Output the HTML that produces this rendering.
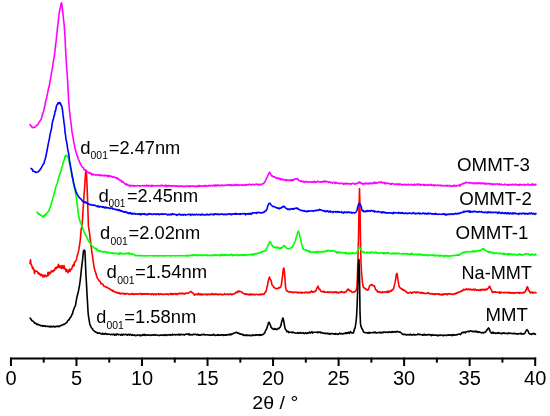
<!DOCTYPE html>
<html><head><meta charset="utf-8"><style>
html,body{margin:0;padding:0;background:#fff;}
body{width:550px;height:416px;overflow:hidden;}
svg{display:block;}
text{font-family:"Liberation Sans",Arial,sans-serif;fill:#000;}
</style></head><body>
<svg width="550" height="416" viewBox="0 0 550 416">
<rect width="550" height="416" fill="#fff"/>
<g fill="none" stroke-width="1.6" stroke-linejoin="round" stroke-linecap="round">
<path d="M30.0,263.4 30.5,259.9 31.0,264.3 31.5,264.7 32.0,266.6 32.5,268.4 33.0,267.4 33.5,269.6 34.0,269.3 34.5,273.5 35.0,271.0 35.5,270.8 36.0,271.2 36.5,271.2 37.0,271.2 37.5,272.1 38.0,273.1 38.5,272.8 39.0,274.1 39.5,273.4 40.0,274.0 40.5,275.6 41.0,275.1 41.5,274.4 42.0,274.9 42.5,275.7 43.0,277.1 43.5,275.4 44.0,275.5 44.5,276.6 45.0,275.1 45.5,275.7 46.0,276.6 46.5,276.2 47.0,275.5 47.5,275.7 48.0,272.4 48.5,275.4 49.0,273.3 49.5,272.3 50.0,273.5 50.5,273.4 51.0,271.9 51.5,270.8 52.0,271.3 52.5,270.8 53.0,271.8 53.5,270.8 54.0,269.9 54.5,270.4 55.0,268.7 55.5,267.6 56.0,268.7 56.5,268.4 57.0,267.3 57.5,266.4 58.0,267.1 58.5,264.3 59.0,267.4 59.5,267.4 60.0,265.7 60.5,267.6 61.0,266.8 61.5,268.4 62.0,265.5 62.5,266.4 63.0,267.9 63.5,268.4 64.0,265.6 64.5,267.8 65.0,269.1 65.5,268.9 66.0,271.6 66.5,269.5 67.0,271.3 67.5,270.3 68.0,272.8 68.5,271.6 69.0,271.0 69.5,269.0 70.0,271.4 70.5,269.9 71.0,269.4 71.5,269.3 72.0,267.9 72.5,266.2 73.0,265.3 73.5,264.5 74.0,266.0 74.5,262.1 75.0,262.1 75.5,261.3 76.0,260.6 76.5,259.2 77.0,256.7 77.5,254.5 78.0,253.2 78.5,251.4 79.0,248.7 79.5,245.6 80.0,241.9 80.5,237.6 81.0,230.3 81.5,228.3 82.0,225.4 82.5,219.8 83.0,210.2 83.5,203.1 84.0,195.5 84.5,189.5 85.0,181.4 85.5,173.7 86.0,170.0 86.5,174.1 87.0,184.9 87.5,197.9 88.0,213.1 88.5,226.9 89.0,229.6 89.5,232.3 90.0,237.4 90.5,241.5 91.0,245.3 91.5,249.1 92.0,253.4 92.5,255.9 93.0,260.1 93.5,263.3 94.0,266.7 94.5,268.7 95.0,271.1 95.5,272.0 96.0,274.1 96.5,275.4 97.0,277.6 97.5,278.3 98.0,278.8 98.5,279.6 99.0,280.7 99.5,280.9 100.0,281.4 100.5,282.5 101.0,283.8 101.5,283.3 102.0,283.8 102.5,284.0 103.0,284.4 103.5,285.6 104.0,286.1 104.5,286.2 105.0,286.6 105.5,286.9 106.0,287.2 106.5,286.9 107.0,287.6 107.5,288.0 108.0,288.0 108.5,288.3 109.0,288.4 109.5,288.8 110.0,289.5 110.5,289.3 111.0,289.7 111.5,290.3 112.0,290.5 112.5,291.2 113.0,290.2 113.5,291.4 114.0,291.2 114.5,291.7 115.0,292.1 115.5,292.3 116.0,292.5 116.5,292.3 117.0,293.0 117.5,292.5 118.0,292.6 118.5,293.1 119.0,292.7 119.5,293.7 120.0,293.4 120.5,293.9 121.0,293.2 121.5,293.2 122.0,293.5 122.5,293.7 123.0,293.3 123.5,293.7 124.0,293.6 124.5,294.2 125.0,293.5 125.5,294.1 126.0,293.6 126.5,293.5 127.0,293.6 127.5,293.5 128.0,293.9 128.5,294.2 129.0,294.0 129.5,294.2 130.0,294.5 130.5,294.1 131.0,294.1 131.5,293.9 132.0,293.5 132.5,294.3 133.0,293.5 133.5,294.3 134.0,294.1 134.5,294.5 135.0,294.1 135.5,293.8 136.0,294.2 136.5,293.9 137.0,294.0 137.5,294.1 138.0,294.1 138.5,294.0 139.0,293.8 139.5,294.0 140.0,293.4 140.5,294.0 141.0,293.7 141.5,294.5 142.0,294.5 142.5,293.5 143.0,294.1 143.5,294.1 144.0,293.8 144.5,294.3 145.0,294.0 145.5,293.5 146.0,294.0 146.5,294.1 147.0,294.1 147.5,293.7 148.0,294.3 148.5,294.3 149.0,293.7 149.5,293.9 150.0,294.1 150.5,293.9 151.0,294.7 151.5,294.2 152.0,293.8 152.5,293.8 153.0,294.1 153.5,294.8 154.0,294.0 154.5,294.1 155.0,294.3 155.5,294.1 156.0,294.8 156.5,293.9 157.0,294.3 157.5,294.2 158.0,294.3 158.5,293.7 159.0,294.7 159.5,294.1 160.0,294.1 160.5,293.8 161.0,293.9 161.5,294.3 162.0,294.4 162.5,294.3 163.0,294.5 163.5,294.3 164.0,294.1 164.5,294.4 165.0,294.3 165.5,294.0 166.0,294.3 166.5,294.5 167.0,294.1 167.5,293.9 168.0,294.3 168.5,294.7 169.0,294.0 169.5,294.0 170.0,294.0 170.5,294.4 171.0,293.4 171.5,294.1 172.0,294.4 172.5,293.7 173.0,294.5 173.5,294.1 174.0,293.8 174.5,294.0 175.0,293.4 175.5,293.7 176.0,294.5 176.5,293.6 177.0,294.5 177.5,293.8 178.0,294.2 178.5,293.8 179.0,293.1 179.5,293.6 180.0,293.8 180.5,293.4 181.0,293.3 181.5,293.8 182.0,293.5 182.5,293.1 183.0,293.4 183.5,293.9 184.0,293.4 184.5,293.9 185.0,294.0 185.5,293.5 186.0,293.1 186.5,293.0 187.0,293.3 187.5,293.5 188.0,293.2 188.5,293.1 189.0,292.5 189.5,292.4 190.0,291.8 190.5,291.7 191.0,291.5 191.5,291.7 192.0,292.6 192.5,292.7 193.0,293.1 193.5,293.9 194.0,294.0 194.5,295.2 195.0,294.6 195.5,294.1 196.0,294.5 196.5,294.4 197.0,294.1 197.5,294.7 198.0,294.1 198.5,293.3 199.0,294.6 199.5,294.1 200.0,294.8 200.5,294.1 201.0,293.9 201.5,294.8 202.0,294.0 202.5,294.4 203.0,294.8 203.5,294.3 204.0,294.3 204.5,294.3 205.0,294.6 205.5,294.0 206.0,294.5 206.5,294.5 207.0,295.0 207.5,294.2 208.0,294.0 208.5,294.5 209.0,294.2 209.5,294.4 210.0,294.3 210.5,294.7 211.0,294.1 211.5,294.3 212.0,293.5 212.5,294.0 213.0,294.8 213.5,294.1 214.0,294.1 214.5,293.9 215.0,294.5 215.5,294.4 216.0,293.9 216.5,294.5 217.0,294.4 217.5,294.5 218.0,294.1 218.5,294.9 219.0,294.4 219.5,294.3 220.0,294.1 220.5,294.2 221.0,294.6 221.5,294.2 222.0,294.6 222.5,294.5 223.0,294.7 223.5,294.6 224.0,294.3 224.5,293.7 225.0,294.4 225.5,294.6 226.0,294.4 226.5,294.5 227.0,294.1 227.5,294.2 228.0,294.0 228.5,294.7 229.0,294.4 229.5,294.1 230.0,293.9 230.5,294.2 231.0,294.7 231.5,294.3 232.0,293.9 232.5,294.4 233.0,294.3 233.5,294.1 234.0,293.9 234.5,293.8 235.0,293.3 235.5,293.0 236.0,292.2 236.5,292.6 237.0,292.0 237.5,292.4 238.0,290.9 238.5,291.6 239.0,291.6 239.5,291.1 240.0,291.4 240.5,291.6 241.0,291.8 241.5,291.8 242.0,292.2 242.5,292.9 243.0,293.3 243.5,293.3 244.0,293.6 244.5,294.0 245.0,294.5 245.5,293.9 246.0,293.9 246.5,294.4 247.0,294.1 247.5,294.3 248.0,294.6 248.5,294.7 249.0,294.2 249.5,294.9 250.0,294.0 250.5,294.8 251.0,294.1 251.5,294.2 252.0,294.8 252.5,294.4 253.0,294.3 253.5,294.4 254.0,294.7 254.5,294.5 255.0,294.5 255.5,294.8 256.0,294.2 256.5,294.3 257.0,294.3 257.5,294.8 258.0,294.8 258.5,294.8 259.0,294.4 259.5,294.4 260.0,294.7 260.5,294.2 261.0,294.6 261.5,294.6 262.0,294.1 262.5,294.2 263.0,294.1 263.5,294.5 264.0,294.5 264.5,293.3 265.0,292.9 265.5,291.6 266.0,291.6 266.5,289.7 267.0,287.1 267.5,285.6 268.0,282.3 268.5,280.2 269.0,278.3 269.5,277.1 270.0,278.6 270.5,279.7 271.0,280.3 271.5,282.3 272.0,284.9 272.5,285.6 273.0,285.8 273.5,286.7 274.0,287.2 274.5,287.6 275.0,288.2 275.5,288.3 276.0,288.8 276.5,288.7 277.0,288.4 277.5,288.5 278.0,288.5 278.5,288.2 279.0,287.4 279.5,287.9 280.0,287.4 280.5,287.5 281.0,286.3 281.5,284.1 282.0,279.8 282.5,276.5 283.0,271.7 283.5,268.2 284.0,268.3 284.5,272.7 285.0,279.0 285.5,286.7 286.0,289.5 286.5,290.8 287.0,290.6 287.5,291.2 288.0,291.4 288.5,292.0 289.0,291.5 289.5,291.8 290.0,292.0 290.5,292.3 291.0,292.1 291.5,292.0 292.0,291.9 292.5,292.4 293.0,292.7 293.5,292.4 294.0,292.4 294.5,292.5 295.0,292.1 295.5,292.3 296.0,292.3 296.5,292.5 297.0,292.4 297.5,292.0 298.0,292.8 298.5,293.0 299.0,292.4 299.5,292.6 300.0,292.6 300.5,292.8 301.0,292.1 301.5,293.1 302.0,292.4 302.5,293.0 303.0,292.6 303.5,292.5 304.0,292.5 304.5,292.9 305.0,292.3 305.5,292.5 306.0,292.4 306.5,292.0 307.0,292.9 307.5,292.6 308.0,292.4 308.5,292.7 309.0,292.0 309.5,292.2 310.0,292.7 310.5,292.4 311.0,291.3 311.5,290.9 312.0,291.6 312.5,292.2 313.0,291.7 313.5,291.7 314.0,291.9 314.5,291.3 315.0,291.6 315.5,291.3 316.0,290.4 316.5,289.4 317.0,287.9 317.5,287.1 318.0,286.1 318.5,287.4 319.0,289.1 319.5,289.0 320.0,289.4 320.5,290.8 321.0,291.4 321.5,291.7 322.0,291.8 322.5,291.3 323.0,291.4 323.5,292.1 324.0,291.4 324.5,292.2 325.0,291.8 325.5,292.2 326.0,292.2 326.5,292.3 327.0,292.3 327.5,291.8 328.0,292.2 328.5,292.1 329.0,292.3 329.5,292.6 330.0,292.1 330.5,292.0 331.0,292.0 331.5,292.2 332.0,292.5 332.5,292.0 333.0,292.7 333.5,292.4 334.0,292.2 334.5,291.9 335.0,292.4 335.5,292.5 336.0,291.7 336.5,292.7 337.0,292.8 337.5,292.4 338.0,292.5 338.5,293.1 339.0,292.7 339.5,292.0 340.0,292.3 340.5,292.2 341.0,292.3 341.5,291.5 342.0,292.5 342.5,292.1 343.0,292.4 343.5,292.3 344.0,292.6 344.5,292.2 345.0,292.0 345.5,292.2 346.0,292.0 346.5,290.7 347.0,290.5 347.5,289.6 348.0,289.1 348.5,290.0 349.0,289.6 349.5,290.7 350.0,290.6 350.5,291.3 351.0,291.1 351.5,291.5 352.0,292.4 352.5,292.3 353.0,292.3 353.5,292.1 354.0,292.3 354.5,291.6 355.0,291.4 355.5,291.4 356.0,290.4 356.5,289.1 357.0,286.3 357.5,273.4 358.0,256.9 358.5,238.4 359.0,208.1 359.5,188.5 360.0,207.1 360.5,240.7 361.0,262.1 361.5,271.9 362.0,277.5 362.5,283.0 363.0,285.8 363.5,287.4 364.0,287.9 364.5,287.8 365.0,288.6 365.5,288.6 366.0,289.5 366.5,289.3 367.0,289.6 367.5,290.1 368.0,289.5 368.5,289.6 369.0,287.6 369.5,286.2 370.0,285.6 370.5,285.4 371.0,284.7 371.5,285.0 372.0,284.6 372.5,285.2 373.0,285.7 373.5,285.5 374.0,285.6 374.5,286.0 375.0,287.9 375.5,289.2 376.0,289.9 376.5,290.4 377.0,290.4 377.5,291.9 378.0,291.6 378.5,291.8 379.0,292.3 379.5,291.5 380.0,292.3 380.5,292.3 381.0,292.4 381.5,292.7 382.0,292.5 382.5,291.7 383.0,292.2 383.5,292.4 384.0,292.3 384.5,291.9 385.0,291.7 385.5,292.4 386.0,292.3 386.5,292.1 387.0,291.5 387.5,292.5 388.0,290.9 388.5,291.6 389.0,292.3 389.5,291.4 390.0,291.3 390.5,290.6 391.0,291.3 391.5,290.1 392.0,290.4 392.5,290.0 393.0,289.1 393.5,289.0 394.0,286.6 394.5,284.8 395.0,282.7 395.5,280.1 396.0,277.0 396.5,274.2 397.0,273.4 397.5,276.5 398.0,280.1 398.5,283.2 399.0,286.2 399.5,286.9 400.0,287.8 400.5,288.1 401.0,288.2 401.5,289.1 402.0,288.8 402.5,289.4 403.0,290.2 403.5,289.7 404.0,290.4 404.5,290.3 405.0,291.0 405.5,291.0 406.0,291.7 406.5,291.9 407.0,292.4 407.5,293.1 408.0,292.8 408.5,293.0 409.0,292.8 409.5,292.7 410.0,292.5 410.5,292.1 411.0,292.7 411.5,293.1 412.0,292.7 412.5,292.3 413.0,293.0 413.5,292.2 414.0,292.1 414.5,291.9 415.0,292.0 415.5,292.2 416.0,293.0 416.5,292.3 417.0,292.0 417.5,292.2 418.0,292.4 418.5,292.0 419.0,292.6 419.5,292.9 420.0,292.8 420.5,293.0 421.0,292.4 421.5,292.4 422.0,293.4 422.5,293.4 423.0,292.6 423.5,293.2 424.0,293.2 424.5,293.4 425.0,293.4 425.5,293.2 426.0,293.4 426.5,293.5 427.0,293.4 427.5,292.9 428.0,292.5 428.5,293.3 429.0,293.1 429.5,293.7 430.0,293.9 430.5,293.8 431.0,293.6 431.5,293.8 432.0,294.2 432.5,293.6 433.0,294.1 433.5,294.1 434.0,294.0 434.5,294.4 435.0,293.7 435.5,294.3 436.0,293.7 436.5,293.8 437.0,293.7 437.5,294.2 438.0,293.8 438.5,294.2 439.0,293.8 439.5,294.5 440.0,294.8 440.5,294.3 441.0,294.8 441.5,294.4 442.0,295.0 442.5,294.3 443.0,293.8 443.5,294.8 444.0,294.3 444.5,294.0 445.0,294.1 445.5,293.8 446.0,294.2 446.5,293.9 447.0,294.8 447.5,294.5 448.0,293.7 448.5,293.8 449.0,294.0 449.5,293.6 450.0,294.1 450.5,294.1 451.0,293.9 451.5,293.9 452.0,294.2 452.5,294.5 453.0,294.5 453.5,294.0 454.0,294.2 454.5,293.6 455.0,293.9 455.5,293.3 456.0,293.7 456.5,292.9 457.0,292.8 457.5,292.9 458.0,292.9 458.5,292.0 459.0,292.1 459.5,292.1 460.0,291.9 460.5,291.2 461.0,291.3 461.5,290.9 462.0,291.3 462.5,290.8 463.0,289.9 463.5,289.3 464.0,289.9 464.5,290.0 465.0,289.5 465.5,289.7 466.0,289.1 466.5,288.8 467.0,289.6 467.5,289.4 468.0,289.6 468.5,288.9 469.0,289.5 469.5,289.2 470.0,289.8 470.5,289.3 471.0,289.4 471.5,289.4 472.0,290.1 472.5,289.7 473.0,289.4 473.5,289.4 474.0,289.4 474.5,290.3 475.0,289.1 475.5,289.5 476.0,290.0 476.5,290.2 477.0,289.8 477.5,290.1 478.0,290.1 478.5,290.2 479.0,289.9 479.5,290.5 480.0,290.0 480.5,290.4 481.0,289.5 481.5,290.2 482.0,289.4 482.5,289.3 483.0,290.0 483.5,289.5 484.0,289.9 484.5,289.3 485.0,290.2 485.5,289.6 486.0,289.1 486.5,289.5 487.0,289.6 487.5,288.7 488.0,288.4 488.5,288.1 489.0,287.0 489.5,286.3 490.0,286.6 490.5,288.5 491.0,289.3 491.5,290.1 492.0,291.7 492.5,291.6 493.0,292.6 493.5,292.1 494.0,291.8 494.5,291.8 495.0,292.3 495.5,291.9 496.0,292.0 496.5,292.2 497.0,292.3 497.5,292.3 498.0,292.3 498.5,292.7 499.0,292.8 499.5,291.8 500.0,293.2 500.5,292.4 501.0,292.8 501.5,292.2 502.0,292.5 502.5,292.5 503.0,292.5 503.5,292.8 504.0,292.7 504.5,292.2 505.0,292.5 505.5,292.8 506.0,292.8 506.5,292.5 507.0,292.6 507.5,292.6 508.0,292.3 508.5,292.3 509.0,293.2 509.5,292.6 510.0,292.8 510.5,292.5 511.0,293.1 511.5,293.3 512.0,292.7 512.5,292.9 513.0,292.5 513.5,293.3 514.0,293.0 514.5,292.5 515.0,293.1 515.5,292.8 516.0,292.9 516.5,292.8 517.0,292.5 517.5,292.6 518.0,292.9 518.5,292.7 519.0,292.4 519.5,293.4 520.0,292.7 520.5,292.5 521.0,292.5 521.5,292.9 522.0,293.0 522.5,292.8 523.0,293.0 523.5,292.2 524.0,292.6 524.5,292.4 525.0,291.9 525.5,291.3 526.0,289.6 526.5,290.0 527.0,287.0 527.5,286.9 528.0,288.1 528.5,289.8 529.0,290.9 529.5,291.1 530.0,292.4 530.5,293.0 531.0,292.4 531.5,292.4 532.0,292.0 532.5,293.1 533.0,292.9 533.5,292.4 534.0,292.7 534.5,292.7 535.0,292.4 535.5,292.6 536.0,292.8" stroke="#FF0000"/>
<path d="M37.0,212.1 37.5,212.7 38.0,213.8 38.5,213.9 39.0,213.6 39.5,214.5 40.0,214.6 40.5,215.2 41.0,215.0 41.5,215.9 42.0,216.1 42.5,216.7 43.0,216.4 43.5,216.4 44.0,215.5 44.5,216.3 45.0,214.6 45.5,215.1 46.0,214.2 46.5,213.5 47.0,213.1 47.5,212.4 48.0,212.1 48.5,211.1 49.0,210.8 49.5,208.6 50.0,207.9 50.5,206.0 51.0,205.0 51.5,202.2 52.0,201.2 52.5,199.7 53.0,197.2 53.5,196.3 54.0,194.0 54.5,192.5 55.0,190.7 55.5,188.1 56.0,186.5 56.5,185.1 57.0,184.0 57.5,182.4 58.0,179.9 58.5,178.3 59.0,176.5 59.5,175.0 60.0,173.5 60.5,171.9 61.0,171.5 61.5,168.4 62.0,166.9 62.5,165.7 63.0,163.2 63.5,161.9 64.0,160.3 64.5,159.1 65.0,156.2 65.5,156.8 66.0,155.3 66.5,155.4 67.0,155.9 67.5,156.1 68.0,157.0 68.5,158.5 69.0,160.7 69.5,163.5 70.0,165.2 70.5,169.0 71.0,170.3 71.5,172.6 72.0,177.1 72.5,178.2 73.0,179.9 73.5,183.7 74.0,184.7 74.5,187.9 75.0,189.7 75.5,193.1 76.0,195.7 76.5,199.0 77.0,202.9 77.5,206.7 78.0,210.8 78.5,215.2 79.0,216.8 79.5,220.1 80.0,221.0 80.5,222.7 81.0,223.4 81.5,224.6 82.0,226.3 82.5,227.4 83.0,229.1 83.5,230.0 84.0,231.9 84.5,232.5 85.0,233.6 85.5,235.0 86.0,235.8 86.5,236.7 87.0,237.7 87.5,238.7 88.0,240.2 88.5,241.0 89.0,241.7 89.5,242.6 90.0,242.9 90.5,244.0 91.0,244.0 91.5,245.6 92.0,245.7 92.5,246.3 93.0,246.9 93.5,247.1 94.0,247.5 94.5,248.4 95.0,248.3 95.5,248.3 96.0,249.0 96.5,248.6 97.0,249.9 97.5,249.6 98.0,250.0 98.5,250.9 99.0,251.1 99.5,250.7 100.0,251.0 100.5,251.3 101.0,251.7 101.5,251.2 102.0,251.5 102.5,251.9 103.0,251.8 103.5,252.0 104.0,252.1 104.5,251.7 105.0,251.8 105.5,251.4 106.0,252.2 106.5,252.7 107.0,252.0 107.5,252.8 108.0,252.8 108.5,252.6 109.0,252.6 109.5,252.7 110.0,252.5 110.5,252.8 111.0,252.9 111.5,253.2 112.0,253.3 112.5,252.9 113.0,253.5 113.5,253.0 114.0,253.2 114.5,253.5 115.0,253.4 115.5,253.4 116.0,253.5 116.5,253.3 117.0,253.3 117.5,253.5 118.0,253.9 118.5,253.5 119.0,254.2 119.5,253.7 120.0,252.7 120.5,253.5 121.0,254.1 121.5,253.6 122.0,253.4 122.5,253.3 123.0,253.9 123.5,253.8 124.0,253.7 124.5,253.6 125.0,253.9 125.5,253.7 126.0,253.0 126.5,253.6 127.0,253.5 127.5,253.4 128.0,253.7 128.5,253.5 129.0,252.7 129.5,254.1 130.0,254.0 130.5,253.7 131.0,253.8 131.5,254.1 132.0,253.8 132.5,254.4 133.0,254.4 133.5,254.5 134.0,254.5 134.5,254.7 135.0,255.5 135.5,255.7 136.0,255.6 136.5,255.5 137.0,255.5 137.5,255.7 138.0,255.8 138.5,255.5 139.0,255.8 139.5,255.5 140.0,255.7 140.5,255.7 141.0,255.6 141.5,255.6 142.0,255.8 142.5,255.8 143.0,255.7 143.5,255.9 144.0,255.7 144.5,255.9 145.0,255.8 145.5,255.8 146.0,255.8 146.5,255.8 147.0,256.0 147.5,256.0 148.0,255.8 148.5,255.8 149.0,255.7 149.5,255.7 150.0,255.8 150.5,255.8 151.0,255.8 151.5,255.8 152.0,255.8 152.5,255.7 153.0,255.7 153.5,255.9 154.0,255.9 154.5,255.8 155.0,255.9 155.5,255.7 156.0,255.8 156.5,255.6 157.0,255.9 157.5,255.8 158.0,255.9 158.5,255.9 159.0,255.8 159.5,255.8 160.0,255.9 160.5,255.8 161.0,255.8 161.5,255.8 162.0,255.9 162.5,255.9 163.0,256.0 163.5,255.8 164.0,255.9 164.5,255.7 165.0,255.8 165.5,255.8 166.0,255.9 166.5,255.8 167.0,255.7 167.5,255.8 168.0,255.8 168.5,255.8 169.0,255.8 169.5,255.7 170.0,256.0 170.5,255.8 171.0,255.9 171.5,255.7 172.0,255.7 172.5,255.8 173.0,255.8 173.5,255.8 174.0,255.7 174.5,255.8 175.0,255.9 175.5,255.7 176.0,255.8 176.5,255.7 177.0,255.8 177.5,255.8 178.0,255.9 178.5,255.7 179.0,255.8 179.5,255.8 180.0,255.6 180.5,255.7 181.0,255.7 181.5,255.7 182.0,255.8 182.5,255.8 183.0,256.0 183.5,255.8 184.0,255.8 184.5,255.7 185.0,255.7 185.5,255.7 186.0,255.5 186.5,256.2 187.0,255.5 187.5,255.4 188.0,255.5 188.5,255.9 189.0,255.9 189.5,255.4 190.0,255.6 190.5,255.4 191.0,255.1 191.5,255.4 192.0,255.3 192.5,254.8 193.0,255.6 193.5,254.8 194.0,255.3 194.5,254.9 195.0,255.0 195.5,255.0 196.0,255.4 196.5,254.8 197.0,255.1 197.5,255.7 198.0,255.0 198.5,255.2 199.0,255.4 199.5,255.0 200.0,255.3 200.5,255.0 201.0,255.4 201.5,255.2 202.0,254.9 202.5,255.6 203.0,255.2 203.5,255.1 204.0,254.9 204.5,255.1 205.0,255.2 205.5,255.3 206.0,255.5 206.5,254.8 207.0,255.1 207.5,255.6 208.0,255.3 208.5,255.3 209.0,255.7 209.5,255.3 210.0,255.3 210.5,255.2 211.0,255.7 211.5,255.5 212.0,255.0 212.5,255.4 213.0,254.9 213.5,255.5 214.0,255.4 214.5,255.2 215.0,255.1 215.5,254.7 216.0,255.4 216.5,255.2 217.0,255.1 217.5,255.4 218.0,255.0 218.5,255.0 219.0,255.0 219.5,254.8 220.0,255.9 220.5,255.1 221.0,255.1 221.5,255.5 222.0,254.3 222.5,255.2 223.0,255.2 223.5,254.9 224.0,255.3 224.5,254.6 225.0,255.2 225.5,255.4 226.0,254.5 226.5,254.7 227.0,255.1 227.5,255.2 228.0,255.0 228.5,255.3 229.0,255.2 229.5,254.7 230.0,255.1 230.5,254.7 231.0,254.5 231.5,254.4 232.0,255.4 232.5,255.1 233.0,255.7 233.5,254.7 234.0,255.0 234.5,255.2 235.0,255.0 235.5,255.2 236.0,255.1 236.5,254.9 237.0,254.4 237.5,254.8 238.0,255.6 238.5,255.3 239.0,255.5 239.5,254.9 240.0,255.0 240.5,254.8 241.0,255.1 241.5,255.0 242.0,255.1 242.5,255.5 243.0,254.7 243.5,255.2 244.0,254.6 244.5,255.3 245.0,254.8 245.5,254.9 246.0,255.0 246.5,255.4 247.0,254.9 247.5,254.7 248.0,254.5 248.5,254.9 249.0,254.5 249.5,254.6 250.0,254.7 250.5,254.8 251.0,254.3 251.5,254.7 252.0,255.0 252.5,253.9 253.0,254.7 253.5,254.9 254.0,254.0 254.5,254.3 255.0,253.6 255.5,254.1 256.0,253.8 256.5,253.9 257.0,253.4 257.5,253.3 258.0,253.3 258.5,253.1 259.0,253.0 259.5,252.9 260.0,252.5 260.5,252.7 261.0,252.7 261.5,251.6 262.0,252.2 262.5,251.7 263.0,251.4 263.5,251.1 264.0,251.1 264.5,250.9 265.0,251.0 265.5,250.2 266.0,250.5 266.5,248.8 267.0,248.0 267.5,247.0 268.0,245.1 268.5,244.8 269.0,243.9 269.5,241.8 270.0,241.8 270.5,242.1 271.0,243.4 271.5,244.3 272.0,245.2 272.5,246.2 273.0,246.6 273.5,246.6 274.0,247.3 274.5,247.4 275.0,247.4 275.5,247.1 276.0,248.1 276.5,248.0 277.0,246.9 277.5,247.3 278.0,247.6 278.5,248.2 279.0,248.4 279.5,247.9 280.0,248.1 280.5,248.3 281.0,247.7 281.5,248.2 282.0,247.6 282.5,247.3 283.0,246.7 283.5,245.8 284.0,245.6 284.5,246.0 285.0,246.3 285.5,246.7 286.0,247.8 286.5,248.0 287.0,248.2 287.5,248.8 288.0,248.8 288.5,248.7 289.0,248.9 289.5,248.5 290.0,248.4 290.5,248.1 291.0,247.6 291.5,247.8 292.0,247.0 292.5,246.7 293.0,245.5 293.5,244.9 294.0,243.7 294.5,242.6 295.0,241.5 295.5,240.2 296.0,238.1 296.5,236.2 297.0,235.0 297.5,233.1 298.0,231.4 298.5,231.2 299.0,232.6 299.5,234.7 300.0,237.3 300.5,238.5 301.0,240.6 301.5,243.4 302.0,245.1 302.5,247.0 303.0,248.4 303.5,249.3 304.0,249.6 304.5,249.8 305.0,249.8 305.5,249.8 306.0,250.6 306.5,250.1 307.0,250.7 307.5,250.5 308.0,251.0 308.5,251.3 309.0,251.9 309.5,250.9 310.0,252.3 310.5,251.8 311.0,252.2 311.5,252.4 312.0,252.0 312.5,252.2 313.0,252.3 313.5,252.1 314.0,252.0 314.5,252.2 315.0,252.2 315.5,251.7 316.0,252.5 316.5,252.1 317.0,251.3 317.5,251.7 318.0,252.5 318.5,252.4 319.0,252.0 319.5,251.4 320.0,251.8 320.5,252.1 321.0,251.9 321.5,251.6 322.0,251.4 322.5,251.9 323.0,251.5 323.5,251.6 324.0,251.6 324.5,251.9 325.0,251.4 325.5,251.3 326.0,250.6 326.5,251.4 327.0,251.3 327.5,250.9 328.0,250.1 328.5,250.5 329.0,250.7 329.5,251.3 330.0,250.8 330.5,250.9 331.0,250.9 331.5,251.2 332.0,250.5 332.5,250.7 333.0,250.7 333.5,251.1 334.0,251.2 334.5,251.5 335.0,251.3 335.5,251.8 336.0,251.6 336.5,252.6 337.0,251.9 337.5,253.0 338.0,252.8 338.5,252.0 339.0,252.7 339.5,252.6 340.0,252.1 340.5,252.8 341.0,252.6 341.5,252.8 342.0,252.5 342.5,252.9 343.0,253.1 343.5,252.9 344.0,252.9 344.5,253.0 345.0,252.8 345.5,253.3 346.0,252.4 346.5,253.7 347.0,253.3 347.5,253.4 348.0,253.6 348.5,252.9 349.0,254.0 349.5,253.0 350.0,253.4 350.5,253.4 351.0,253.7 351.5,253.3 352.0,252.9 352.5,253.4 353.0,252.6 353.5,253.2 354.0,253.2 354.5,253.8 355.0,253.2 355.5,253.2 356.0,253.1 356.5,253.0 357.0,252.2 357.5,251.5 358.0,249.7 358.5,248.7 359.0,247.2 359.5,247.3 360.0,248.0 360.5,248.5 361.0,249.6 361.5,250.6 362.0,251.6 362.5,252.3 363.0,252.3 363.5,252.0 364.0,251.9 364.5,252.6 365.0,252.9 365.5,252.6 366.0,253.0 366.5,252.4 367.0,252.4 367.5,253.0 368.0,252.2 368.5,252.7 369.0,252.7 369.5,252.6 370.0,253.1 370.5,252.3 371.0,252.5 371.5,252.0 372.0,252.3 372.5,252.5 373.0,252.5 373.5,252.6 374.0,252.8 374.5,252.5 375.0,252.1 375.5,252.8 376.0,252.9 376.5,252.4 377.0,252.5 377.5,253.3 378.0,253.1 378.5,253.2 379.0,253.1 379.5,252.9 380.0,252.7 380.5,253.1 381.0,252.9 381.5,252.8 382.0,253.0 382.5,253.0 383.0,253.3 383.5,252.7 384.0,253.8 384.5,252.8 385.0,253.0 385.5,253.4 386.0,252.9 386.5,253.0 387.0,253.2 387.5,252.3 388.0,253.1 388.5,252.9 389.0,253.2 389.5,253.4 390.0,253.5 390.5,253.8 391.0,253.8 391.5,253.7 392.0,253.4 392.5,253.7 393.0,253.1 393.5,253.4 394.0,253.9 394.5,253.7 395.0,253.1 395.5,253.3 396.0,253.8 396.5,253.7 397.0,253.9 397.5,253.0 398.0,253.2 398.5,253.6 399.0,253.4 399.5,253.7 400.0,253.7 400.5,253.8 401.0,253.7 401.5,253.9 402.0,254.0 402.5,253.8 403.0,253.4 403.5,254.2 404.0,253.9 404.5,254.0 405.0,254.0 405.5,253.4 406.0,254.1 406.5,253.8 407.0,253.6 407.5,254.4 408.0,253.9 408.5,254.2 409.0,254.4 409.5,254.6 410.0,253.6 410.5,253.9 411.0,254.4 411.5,254.0 412.0,253.2 412.5,254.3 413.0,254.4 413.5,254.6 414.0,254.4 414.5,254.2 415.0,254.5 415.5,254.4 416.0,254.3 416.5,254.5 417.0,254.6 417.5,254.2 418.0,254.9 418.5,254.8 419.0,254.8 419.5,253.8 420.0,254.7 420.5,254.6 421.0,254.4 421.5,254.9 422.0,254.3 422.5,255.2 423.0,254.9 423.5,254.7 424.0,255.3 424.5,255.0 425.0,255.0 425.5,254.5 426.0,255.1 426.5,255.4 427.0,255.4 427.5,254.6 428.0,255.5 428.5,255.6 429.0,255.4 429.5,255.0 430.0,254.7 430.5,255.0 431.0,255.1 431.5,255.4 432.0,255.5 432.5,255.1 433.0,254.9 433.5,255.3 434.0,255.1 434.5,255.9 435.0,255.1 435.5,255.7 436.0,255.8 436.5,255.3 437.0,255.9 437.5,255.6 438.0,255.4 438.5,255.4 439.0,255.8 439.5,256.1 440.0,255.2 440.5,256.0 441.0,255.8 441.5,255.6 442.0,255.8 442.5,255.9 443.0,255.8 443.5,256.1 444.0,255.6 444.5,256.5 445.0,256.2 445.5,255.7 446.0,255.3 446.5,255.9 447.0,255.7 447.5,256.1 448.0,256.1 448.5,256.4 449.0,255.8 449.5,256.0 450.0,255.7 450.5,255.7 451.0,256.2 451.5,255.7 452.0,255.7 452.5,255.6 453.0,255.8 453.5,255.8 454.0,255.6 454.5,255.2 455.0,255.6 455.5,255.2 456.0,255.3 456.5,255.3 457.0,255.3 457.5,254.4 458.0,255.5 458.5,255.1 459.0,255.3 459.5,255.3 460.0,254.0 460.5,253.9 461.0,253.8 461.5,253.7 462.0,253.0 462.5,252.7 463.0,252.9 463.5,252.1 464.0,252.4 464.5,252.6 465.0,252.1 465.5,252.3 466.0,252.0 466.5,251.5 467.0,251.8 467.5,251.8 468.0,251.8 468.5,251.8 469.0,251.9 469.5,251.9 470.0,251.8 470.5,251.6 471.0,251.6 471.5,251.5 472.0,251.4 472.5,252.0 473.0,250.9 473.5,251.6 474.0,250.9 474.5,251.2 475.0,251.6 475.5,251.2 476.0,251.7 476.5,250.9 477.0,251.0 477.5,250.8 478.0,250.9 478.5,250.7 479.0,250.5 479.5,250.5 480.0,250.7 480.5,250.2 481.0,250.1 481.5,249.7 482.0,249.3 482.5,248.8 483.0,248.9 483.5,249.3 484.0,248.9 484.5,250.0 485.0,250.0 485.5,250.2 486.0,250.5 486.5,251.1 487.0,251.2 487.5,251.4 488.0,252.1 488.5,252.4 489.0,251.5 489.5,252.3 490.0,251.9 490.5,251.9 491.0,252.3 491.5,252.9 492.0,252.6 492.5,252.6 493.0,253.3 493.5,253.0 494.0,252.9 494.5,253.6 495.0,253.2 495.5,252.9 496.0,252.8 496.5,253.1 497.0,253.3 497.5,253.6 498.0,253.6 498.5,253.4 499.0,253.1 499.5,253.7 500.0,253.5 500.5,253.2 501.0,253.2 501.5,253.7 502.0,253.8 502.5,254.0 503.0,253.4 503.5,254.4 504.0,253.3 504.5,253.9 505.0,254.4 505.5,254.3 506.0,253.7 506.5,254.3 507.0,254.5 507.5,254.4 508.0,253.9 508.5,254.7 509.0,253.7 509.5,254.3 510.0,254.0 510.5,254.2 511.0,254.2 511.5,254.5 512.0,254.0 512.5,254.5 513.0,254.8 513.5,254.5 514.0,254.6 514.5,254.6 515.0,254.3 515.5,254.4 516.0,254.5 516.5,254.7 517.0,255.2 517.5,255.1 518.0,254.4 518.5,254.5 519.0,254.3 519.5,253.9 520.0,255.0 520.5,254.8 521.0,254.1 521.5,254.7 522.0,255.4 522.5,254.8 523.0,254.8 523.5,254.7 524.0,254.4 524.5,254.2 525.0,254.1 525.5,254.1 526.0,253.7 526.5,253.7 527.0,253.8 527.5,253.7 528.0,254.3 528.5,254.2 529.0,253.9 529.5,255.1 530.0,254.7 530.5,254.9 531.0,254.4 531.5,254.0 532.0,255.0 532.5,254.0 533.0,254.6 533.5,254.5 534.0,254.7 534.5,254.9 535.0,254.9 535.5,254.0 536.0,255.0" stroke="#00FF00"/>
<path d="M31.0,168.4 31.5,168.8 32.0,169.4 32.5,169.3 33.0,171.2 33.5,171.3 34.0,171.2 34.5,171.8 35.0,171.9 35.5,171.8 36.0,172.4 36.5,172.2 37.0,172.2 37.5,172.0 38.0,172.0 38.5,171.5 39.0,171.1 39.5,170.2 40.0,169.8 40.5,168.8 41.0,168.5 41.5,167.3 42.0,166.4 42.5,165.6 43.0,164.2 43.5,164.0 44.0,163.5 44.5,161.0 45.0,159.7 45.5,157.8 46.0,156.1 46.5,153.0 47.0,150.8 47.5,148.1 48.0,145.4 48.5,142.9 49.0,140.2 49.5,138.2 50.0,134.7 50.5,132.6 51.0,130.4 51.5,128.8 52.0,124.7 52.5,122.0 53.0,120.0 53.5,118.8 54.0,116.0 54.5,115.1 55.0,111.1 55.5,111.0 56.0,108.8 56.5,105.3 57.0,104.9 57.5,104.6 58.0,102.9 58.5,102.9 59.0,103.6 59.5,102.5 60.0,102.8 60.5,103.3 61.0,105.2 61.5,105.6 62.0,107.0 62.5,110.1 63.0,114.7 63.5,118.1 64.0,122.4 64.5,126.0 65.0,132.0 65.5,134.9 66.0,139.1 66.5,141.4 67.0,144.1 67.5,147.8 68.0,150.5 68.5,152.8 69.0,156.1 69.5,160.6 70.0,163.0 70.5,166.1 71.0,168.8 71.5,171.5 72.0,175.0 72.5,177.2 73.0,179.5 73.5,182.5 74.0,184.5 74.5,186.8 75.0,188.8 75.5,189.5 76.0,191.9 76.5,192.5 77.0,194.0 77.5,194.6 78.0,195.7 78.5,196.6 79.0,197.1 79.5,197.7 80.0,198.3 80.5,198.7 81.0,198.9 81.5,199.8 82.0,200.4 82.5,201.0 83.0,201.2 83.5,202.1 84.0,201.7 84.5,201.7 85.0,202.7 85.5,202.0 86.0,202.9 86.5,202.6 87.0,203.3 87.5,202.8 88.0,204.0 88.5,203.8 89.0,203.8 89.5,204.8 90.0,204.7 90.5,204.6 91.0,204.5 91.5,204.8 92.0,204.9 92.5,205.3 93.0,205.5 93.5,205.1 94.0,205.3 94.5,205.4 95.0,205.2 95.5,205.6 96.0,205.9 96.5,206.2 97.0,206.5 97.5,205.9 98.0,206.5 98.5,206.2 99.0,207.2 99.5,206.6 100.0,206.8 100.5,206.4 101.0,206.6 101.5,207.0 102.0,206.9 102.5,207.2 103.0,206.6 103.5,207.5 104.0,207.0 104.5,207.9 105.0,207.4 105.5,207.9 106.0,207.1 106.5,207.8 107.0,207.5 107.5,207.7 108.0,207.9 108.5,207.9 109.0,208.1 109.5,208.4 110.0,208.4 110.5,208.3 111.0,207.9 111.5,208.2 112.0,208.5 112.5,208.0 113.0,209.1 113.5,208.9 114.0,209.0 114.5,209.5 115.0,209.5 115.5,209.5 116.0,209.2 116.5,209.8 117.0,209.9 117.5,209.6 118.0,210.4 118.5,210.4 119.0,209.7 119.5,210.5 120.0,210.2 120.5,211.1 121.0,211.1 121.5,210.7 122.0,210.9 122.5,211.4 123.0,211.4 123.5,212.1 124.0,212.0 124.5,211.8 125.0,212.2 125.5,211.5 126.0,212.4 126.5,212.7 127.0,212.5 127.5,212.4 128.0,212.9 128.5,213.5 129.0,213.1 129.5,212.8 130.0,213.7 130.5,212.7 131.0,213.6 131.5,213.3 132.0,213.9 132.5,213.4 133.0,214.1 133.5,213.9 134.0,213.3 134.5,213.3 135.0,213.8 135.5,214.3 136.0,214.0 136.5,214.0 137.0,213.9 137.5,214.2 138.0,214.1 138.5,214.1 139.0,213.7 139.5,214.4 140.0,214.4 140.5,213.7 141.0,214.8 141.5,214.3 142.0,213.9 142.5,213.5 143.0,214.3 143.5,214.3 144.0,213.9 144.5,213.6 145.0,214.5 145.5,214.0 146.0,214.0 146.5,215.0 147.0,214.8 147.5,214.4 148.0,214.0 148.5,214.4 149.0,213.5 149.5,214.2 150.0,214.0 150.5,213.8 151.0,213.7 151.5,214.4 152.0,214.2 152.5,214.3 153.0,214.5 153.5,214.0 154.0,213.9 154.5,213.7 155.0,214.1 155.5,214.5 156.0,214.2 156.5,214.4 157.0,213.9 157.5,214.1 158.0,214.0 158.5,213.9 159.0,214.8 159.5,214.6 160.0,214.1 160.5,214.1 161.0,214.3 161.5,213.9 162.0,214.5 162.5,213.9 163.0,214.2 163.5,214.0 164.0,214.2 164.5,214.0 165.0,213.9 165.5,214.1 166.0,214.2 166.5,214.3 167.0,214.4 167.5,214.9 168.0,214.7 168.5,214.4 169.0,214.7 169.5,214.3 170.0,214.9 170.5,214.6 171.0,214.1 171.5,214.7 172.0,214.7 172.5,213.7 173.0,214.3 173.5,214.4 174.0,214.0 174.5,214.2 175.0,214.3 175.5,214.7 176.0,214.7 176.5,215.4 177.0,214.5 177.5,214.9 178.0,214.6 178.5,214.7 179.0,214.3 179.5,214.0 180.0,214.4 180.5,214.9 181.0,215.1 181.5,214.8 182.0,214.8 182.5,214.4 183.0,215.1 183.5,215.1 184.0,214.5 184.5,214.7 185.0,214.4 185.5,215.1 186.0,214.8 186.5,214.7 187.0,214.8 187.5,214.8 188.0,214.6 188.5,214.3 189.0,214.3 189.5,214.2 190.0,214.8 190.5,215.4 191.0,214.2 191.5,214.7 192.0,214.8 192.5,214.4 193.0,214.8 193.5,214.4 194.0,215.0 194.5,214.5 195.0,214.7 195.5,214.9 196.0,214.5 196.5,214.1 197.0,214.5 197.5,214.9 198.0,214.6 198.5,214.7 199.0,214.3 199.5,214.7 200.0,214.8 200.5,214.6 201.0,215.2 201.5,214.5 202.0,214.3 202.5,214.1 203.0,214.9 203.5,214.6 204.0,214.9 204.5,214.7 205.0,215.0 205.5,214.9 206.0,214.4 206.5,214.6 207.0,214.8 207.5,214.1 208.0,214.9 208.5,214.9 209.0,214.8 209.5,214.4 210.0,214.6 210.5,214.1 211.0,214.5 211.5,214.3 212.0,214.5 212.5,214.3 213.0,214.5 213.5,214.8 214.0,214.0 214.5,214.7 215.0,213.8 215.5,213.7 216.0,214.3 216.5,214.4 217.0,214.5 217.5,213.8 218.0,214.3 218.5,214.4 219.0,214.7 219.5,214.3 220.0,214.5 220.5,214.0 221.0,214.2 221.5,214.1 222.0,214.5 222.5,214.0 223.0,214.0 223.5,214.4 224.0,214.8 224.5,214.4 225.0,214.3 225.5,214.1 226.0,214.6 226.5,214.4 227.0,214.7 227.5,214.3 228.0,213.9 228.5,214.0 229.0,213.9 229.5,213.8 230.0,214.6 230.5,214.4 231.0,213.8 231.5,214.7 232.0,214.2 232.5,213.9 233.0,214.3 233.5,214.1 234.0,213.9 234.5,213.5 235.0,214.1 235.5,214.2 236.0,213.3 236.5,214.3 237.0,214.3 237.5,213.9 238.0,214.1 238.5,214.0 239.0,213.8 239.5,213.9 240.0,214.4 240.5,213.6 241.0,214.1 241.5,214.0 242.0,213.8 242.5,213.8 243.0,213.5 243.5,213.7 244.0,213.9 244.5,214.0 245.0,213.6 245.5,214.8 246.0,213.7 246.5,213.9 247.0,213.7 247.5,213.7 248.0,214.1 248.5,213.6 249.0,214.1 249.5,214.0 250.0,213.3 250.5,213.9 251.0,213.3 251.5,214.3 252.0,213.3 252.5,213.1 253.0,212.7 253.5,212.9 254.0,213.0 254.5,212.9 255.0,212.7 255.5,212.9 256.0,213.0 256.5,213.4 257.0,212.4 257.5,212.8 258.0,212.6 258.5,212.4 259.0,212.5 259.5,212.6 260.0,213.0 260.5,212.7 261.0,212.6 261.5,212.9 262.0,212.8 262.5,212.6 263.0,212.6 263.5,212.1 264.0,212.3 264.5,212.0 265.0,211.3 265.5,210.6 266.0,210.8 266.5,209.7 267.0,209.4 267.5,206.6 268.0,205.7 268.5,204.2 269.0,203.6 269.5,203.5 270.0,203.2 270.5,204.1 271.0,204.8 271.5,205.3 272.0,205.8 272.5,206.3 273.0,206.5 273.5,206.6 274.0,206.6 274.5,206.5 275.0,206.9 275.5,207.2 276.0,207.8 276.5,207.7 277.0,207.6 277.5,208.4 278.0,208.1 278.5,208.3 279.0,208.5 279.5,208.8 280.0,207.9 280.5,208.2 281.0,208.2 281.5,207.6 282.0,207.0 282.5,206.8 283.0,207.1 283.5,206.2 284.0,206.5 284.5,206.8 285.0,207.0 285.5,207.9 286.0,208.2 286.5,208.4 287.0,208.6 287.5,209.5 288.0,209.2 288.5,209.1 289.0,208.9 289.5,209.8 290.0,209.4 290.5,209.1 291.0,208.9 291.5,208.6 292.0,209.1 292.5,209.0 293.0,208.5 293.5,209.2 294.0,209.0 294.5,208.4 295.0,208.4 295.5,208.4 296.0,208.5 296.5,208.3 297.0,207.8 297.5,208.8 298.0,208.6 298.5,209.2 299.0,209.5 299.5,209.5 300.0,209.9 300.5,210.2 301.0,210.5 301.5,210.4 302.0,210.4 302.5,210.8 303.0,210.7 303.5,210.9 304.0,210.6 304.5,211.3 305.0,211.0 305.5,211.1 306.0,211.3 306.5,211.4 307.0,211.9 307.5,211.3 308.0,210.8 308.5,211.3 309.0,211.0 309.5,211.3 310.0,211.0 310.5,211.0 311.0,211.0 311.5,210.9 312.0,210.5 312.5,210.9 313.0,211.0 313.5,211.3 314.0,210.7 314.5,210.6 315.0,210.8 315.5,210.6 316.0,210.8 316.5,210.4 317.0,210.1 317.5,210.4 318.0,210.4 318.5,209.8 319.0,209.9 319.5,209.4 320.0,209.9 320.5,209.8 321.0,210.1 321.5,210.1 322.0,210.4 322.5,210.5 323.0,210.8 323.5,210.9 324.0,210.8 324.5,210.6 325.0,211.5 325.5,211.6 326.0,211.1 326.5,211.4 327.0,210.8 327.5,210.9 328.0,211.3 328.5,211.9 329.0,211.2 329.5,211.3 330.0,212.1 330.5,211.0 331.0,211.9 331.5,211.8 332.0,211.7 332.5,211.8 333.0,212.6 333.5,211.5 334.0,211.7 334.5,211.8 335.0,211.7 335.5,211.5 336.0,212.4 336.5,212.0 337.0,211.5 337.5,211.8 338.0,212.2 338.5,212.2 339.0,211.6 339.5,212.1 340.0,212.2 340.5,212.3 341.0,212.3 341.5,211.6 342.0,212.7 342.5,212.3 343.0,212.8 343.5,213.1 344.0,212.2 344.5,211.9 345.0,212.6 345.5,212.3 346.0,212.2 346.5,212.1 347.0,212.9 347.5,212.3 348.0,212.0 348.5,212.3 349.0,212.1 349.5,212.6 350.0,212.4 350.5,212.3 351.0,212.8 351.5,212.4 352.0,212.9 352.5,213.0 353.0,212.6 353.5,212.5 354.0,212.8 354.5,213.0 355.0,212.7 355.5,212.5 356.0,212.0 356.5,211.4 357.0,210.2 357.5,207.8 358.0,206.1 358.5,204.9 359.0,203.4 359.5,203.4 360.0,204.1 360.5,205.1 361.0,206.1 361.5,207.6 362.0,210.3 362.5,211.1 363.0,210.6 363.5,210.8 364.0,211.8 364.5,211.7 365.0,211.3 365.5,211.7 366.0,210.8 366.5,211.3 367.0,211.5 367.5,210.6 368.0,210.8 368.5,211.2 369.0,211.3 369.5,210.6 370.0,210.9 370.5,211.2 371.0,210.6 371.5,210.3 372.0,210.7 372.5,210.7 373.0,211.3 373.5,211.0 374.0,210.8 374.5,211.9 375.0,211.1 375.5,211.5 376.0,211.6 376.5,211.8 377.0,211.7 377.5,211.9 378.0,211.8 378.5,211.4 379.0,211.9 379.5,212.0 380.0,212.0 380.5,212.2 381.0,212.1 381.5,212.7 382.0,212.9 382.5,211.8 383.0,212.5 383.5,212.4 384.0,211.8 384.5,212.8 385.0,212.5 385.5,212.6 386.0,212.5 386.5,213.1 387.0,213.2 387.5,212.9 388.0,213.0 388.5,212.8 389.0,212.9 389.5,212.7 390.0,212.9 390.5,212.7 391.0,213.0 391.5,213.2 392.0,213.0 392.5,213.3 393.0,213.8 393.5,212.3 394.0,213.0 394.5,212.8 395.0,212.9 395.5,212.6 396.0,213.0 396.5,213.0 397.0,212.9 397.5,213.0 398.0,212.9 398.5,212.4 399.0,213.4 399.5,213.0 400.0,212.8 400.5,213.2 401.0,212.9 401.5,212.5 402.0,213.4 402.5,212.6 403.0,213.1 403.5,213.2 404.0,213.6 404.5,213.5 405.0,213.2 405.5,212.9 406.0,213.1 406.5,213.5 407.0,213.7 407.5,213.4 408.0,213.0 408.5,213.5 409.0,213.1 409.5,213.1 410.0,213.1 410.5,213.4 411.0,213.3 411.5,213.5 412.0,213.6 412.5,213.4 413.0,212.6 413.5,212.8 414.0,213.3 414.5,213.3 415.0,214.0 415.5,213.3 416.0,213.3 416.5,213.6 417.0,213.7 417.5,213.3 418.0,213.5 418.5,213.0 419.0,213.1 419.5,213.8 420.0,213.0 420.5,213.7 421.0,213.7 421.5,213.7 422.0,213.8 422.5,213.7 423.0,212.9 423.5,213.3 424.0,213.4 424.5,213.9 425.0,213.3 425.5,213.4 426.0,213.5 426.5,214.1 427.0,213.3 427.5,213.3 428.0,213.9 428.5,213.1 429.0,213.9 429.5,213.6 430.0,213.3 430.5,213.7 431.0,213.5 431.5,213.9 432.0,214.0 432.5,214.3 433.0,213.9 433.5,214.0 434.0,213.8 434.5,214.0 435.0,214.3 435.5,213.4 436.0,214.2 436.5,213.9 437.0,214.1 437.5,214.2 438.0,214.4 438.5,214.2 439.0,214.1 439.5,214.3 440.0,214.2 440.5,214.2 441.0,214.3 441.5,214.5 442.0,214.3 442.5,214.3 443.0,213.9 443.5,214.3 444.0,213.7 444.5,214.5 445.0,214.0 445.5,214.7 446.0,215.2 446.5,214.2 447.0,214.7 447.5,214.4 448.0,214.1 448.5,214.0 449.0,214.4 449.5,214.6 450.0,214.3 450.5,213.7 451.0,213.8 451.5,214.0 452.0,214.5 452.5,214.1 453.0,214.1 453.5,214.4 454.0,213.9 454.5,213.9 455.0,213.8 455.5,213.3 456.0,213.9 456.5,213.9 457.0,214.0 457.5,213.2 458.0,213.2 458.5,213.7 459.0,213.4 459.5,213.6 460.0,212.8 460.5,212.9 461.0,212.5 461.5,212.6 462.0,212.2 462.5,212.4 463.0,212.4 463.5,212.1 464.0,211.2 464.5,212.0 465.0,211.8 465.5,211.2 466.0,211.2 466.5,211.4 467.0,211.5 467.5,211.2 468.0,210.8 468.5,211.4 469.0,211.4 469.5,212.1 470.0,210.9 470.5,212.2 471.0,212.0 471.5,211.5 472.0,212.0 472.5,211.5 473.0,211.9 473.5,211.4 474.0,211.7 474.5,211.3 475.0,211.2 475.5,211.7 476.0,211.6 476.5,212.0 477.0,212.2 477.5,211.8 478.0,211.9 478.5,212.0 479.0,211.4 479.5,212.0 480.0,212.0 480.5,212.0 481.0,211.7 481.5,211.4 482.0,212.0 482.5,212.2 483.0,212.5 483.5,212.4 484.0,212.6 484.5,212.2 485.0,212.5 485.5,212.1 486.0,212.4 486.5,212.5 487.0,213.0 487.5,212.3 488.0,211.8 488.5,212.7 489.0,212.0 489.5,212.3 490.0,212.2 490.5,212.0 491.0,212.8 491.5,212.5 492.0,212.2 492.5,212.4 493.0,212.3 493.5,212.7 494.0,212.4 494.5,212.3 495.0,212.3 495.5,212.4 496.0,212.7 496.5,212.3 497.0,212.6 497.5,212.8 498.0,213.4 498.5,213.0 499.0,211.9 499.5,212.7 500.0,212.7 500.5,213.0 501.0,213.4 501.5,213.2 502.0,212.3 502.5,213.1 503.0,213.0 503.5,213.2 504.0,213.5 504.5,212.8 505.0,213.4 505.5,212.6 506.0,213.2 506.5,213.3 507.0,213.9 507.5,213.0 508.0,212.7 508.5,213.5 509.0,213.1 509.5,213.8 510.0,213.1 510.5,213.0 511.0,213.7 511.5,213.4 512.0,213.7 512.5,212.9 513.0,213.9 513.5,213.2 514.0,213.6 514.5,213.1 515.0,212.9 515.5,213.4 516.0,213.5 516.5,213.9 517.0,213.6 517.5,213.7 518.0,213.7 518.5,214.4 519.0,213.3 519.5,213.9 520.0,213.5 520.5,213.6 521.0,213.4 521.5,213.9 522.0,213.2 522.5,213.2 523.0,213.5 523.5,213.2 524.0,213.8 524.5,213.9 525.0,213.4 525.5,213.9 526.0,213.4 526.5,213.6 527.0,213.6 527.5,214.2 528.0,213.7 528.5,213.4 529.0,213.4 529.5,214.0 530.0,213.2 530.5,213.5 531.0,213.6 531.5,212.9 532.0,213.5 532.5,214.0 533.0,213.8 533.5,213.4 534.0,213.9 534.5,213.9 535.0,214.3 535.5,213.5 536.0,213.6" stroke="#0000FF"/>
<path d="M30.0,318.0 30.5,318.4 31.0,319.3 31.5,320.0 32.0,320.7 32.5,320.9 33.0,321.1 33.5,321.5 34.0,322.4 34.5,323.1 35.0,323.1 35.5,323.0 36.0,323.5 36.5,324.5 37.0,324.4 37.5,324.0 38.0,324.7 38.5,324.6 39.0,324.9 39.5,325.1 40.0,325.1 40.5,325.6 41.0,325.6 41.5,325.5 42.0,325.9 42.5,326.2 43.0,325.5 43.5,326.0 44.0,325.9 44.5,326.2 45.0,325.9 45.5,326.4 46.0,326.4 46.5,326.3 47.0,326.2 47.5,326.4 48.0,326.2 48.5,326.2 49.0,326.7 49.5,326.3 50.0,327.0 50.5,326.9 51.0,326.2 51.5,326.8 52.0,326.5 52.5,326.8 53.0,326.8 53.5,326.2 54.0,326.7 54.5,326.7 55.0,326.9 55.5,326.3 56.0,326.7 56.5,326.2 57.0,326.3 57.5,326.1 58.0,326.6 58.5,326.3 59.0,326.7 59.5,326.0 60.0,326.0 60.5,325.8 61.0,325.2 61.5,325.2 62.0,325.4 62.5,324.7 63.0,324.7 63.5,324.4 64.0,324.4 64.5,323.9 65.0,323.7 65.5,323.5 66.0,323.1 66.5,322.3 67.0,322.4 67.5,321.2 68.0,320.6 68.5,319.9 69.0,320.0 69.5,318.9 70.0,318.0 70.5,317.2 71.0,317.0 71.5,315.6 72.0,314.4 72.5,313.7 73.0,311.5 73.5,310.0 74.0,308.7 74.5,307.4 75.0,306.4 75.5,305.3 76.0,302.2 76.5,299.3 77.0,296.7 77.5,295.1 78.0,292.8 78.5,290.9 79.0,288.1 79.5,285.3 80.0,281.9 80.5,277.8 81.0,273.3 81.5,268.3 82.0,263.8 82.5,260.4 83.0,255.3 83.5,250.8 84.0,250.4 84.5,250.2 85.0,251.8 85.5,264.5 86.0,276.0 86.5,284.0 87.0,294.1 87.5,302.3 88.0,311.3 88.5,316.5 89.0,319.2 89.5,322.3 90.0,325.1 90.5,325.5 91.0,327.1 91.5,327.8 92.0,328.3 92.5,329.0 93.0,329.9 93.5,330.5 94.0,330.7 94.5,331.2 95.0,331.8 95.5,331.9 96.0,332.3 96.5,332.4 97.0,332.6 97.5,333.2 98.0,333.0 98.5,333.0 99.0,333.3 99.5,333.0 100.0,333.2 100.5,333.6 101.0,333.7 101.5,334.0 102.0,333.6 102.5,333.3 103.0,334.3 103.5,334.1 104.0,333.5 104.5,334.2 105.0,333.9 105.5,333.4 106.0,333.9 106.5,333.9 107.0,334.5 107.5,333.9 108.0,334.1 108.5,334.2 109.0,334.2 109.5,334.1 110.0,334.4 110.5,334.7 111.0,334.6 111.5,334.2 112.0,334.2 112.5,334.6 113.0,334.4 113.5,334.4 114.0,334.1 114.5,335.2 115.0,334.9 115.5,334.3 116.0,334.9 116.5,335.0 117.0,333.9 117.5,334.4 118.0,334.5 118.5,334.8 119.0,334.5 119.5,334.5 120.0,334.5 120.5,335.1 121.0,335.1 121.5,334.4 122.0,334.3 122.5,335.3 123.0,334.2 123.5,334.3 124.0,334.5 124.5,334.6 125.0,334.8 125.5,334.6 126.0,334.3 126.5,334.7 127.0,334.6 127.5,335.1 128.0,334.6 128.5,334.3 129.0,334.4 129.5,335.2 130.0,334.6 130.5,334.3 131.0,334.7 131.5,334.9 132.0,335.3 132.5,334.7 133.0,335.2 133.5,335.3 134.0,334.9 134.5,335.0 135.0,335.6 135.5,335.6 136.0,335.3 136.5,335.2 137.0,335.4 137.5,335.1 138.0,335.1 138.5,334.9 139.0,335.1 139.5,335.1 140.0,335.9 140.5,335.0 141.0,335.5 141.5,335.5 142.0,335.0 142.5,335.4 143.0,334.5 143.5,335.1 144.0,335.3 144.5,334.4 145.0,334.8 145.5,335.4 146.0,335.0 146.5,334.8 147.0,335.0 147.5,334.9 148.0,335.3 148.5,335.2 149.0,335.0 149.5,334.9 150.0,335.1 150.5,335.5 151.0,335.2 151.5,335.3 152.0,335.1 152.5,334.7 153.0,334.9 153.5,335.3 154.0,335.1 154.5,334.8 155.0,334.6 155.5,335.1 156.0,335.0 156.5,335.0 157.0,335.0 157.5,335.2 158.0,335.2 158.5,335.4 159.0,335.4 159.5,335.5 160.0,335.3 160.5,335.0 161.0,335.1 161.5,335.2 162.0,335.0 162.5,335.2 163.0,335.4 163.5,334.9 164.0,334.6 164.5,335.4 165.0,335.1 165.5,335.2 166.0,334.7 166.5,335.5 167.0,335.2 167.5,335.0 168.0,334.9 168.5,335.0 169.0,334.9 169.5,334.9 170.0,334.6 170.5,335.3 171.0,334.9 171.5,334.9 172.0,334.9 172.5,334.2 173.0,335.0 173.5,334.7 174.0,334.7 174.5,334.8 175.0,334.5 175.5,335.0 176.0,334.6 176.5,334.5 177.0,334.5 177.5,334.8 178.0,334.9 178.5,334.5 179.0,334.2 179.5,335.0 180.0,334.3 180.5,335.0 181.0,334.6 181.5,334.4 182.0,334.4 182.5,334.7 183.0,334.8 183.5,334.5 184.0,334.8 184.5,335.1 185.0,334.5 185.5,334.2 186.0,334.2 186.5,334.1 187.0,334.3 187.5,334.3 188.0,334.1 188.5,334.7 189.0,333.8 189.5,334.1 190.0,335.1 190.5,334.8 191.0,334.7 191.5,334.6 192.0,335.0 192.5,334.7 193.0,334.6 193.5,334.2 194.0,334.5 194.5,334.4 195.0,334.4 195.5,334.4 196.0,334.6 196.5,334.5 197.0,334.9 197.5,334.3 198.0,334.6 198.5,335.2 199.0,334.7 199.5,335.1 200.0,335.1 200.5,335.1 201.0,335.0 201.5,334.4 202.0,334.8 202.5,334.7 203.0,334.4 203.5,334.7 204.0,334.5 204.5,334.4 205.0,335.0 205.5,334.9 206.0,334.8 206.5,334.7 207.0,334.8 207.5,334.9 208.0,334.9 208.5,335.0 209.0,334.9 209.5,335.2 210.0,335.2 210.5,335.2 211.0,334.9 211.5,334.9 212.0,335.2 212.5,335.0 213.0,335.1 213.5,334.4 214.0,334.3 214.5,335.2 215.0,335.2 215.5,335.5 216.0,335.3 216.5,335.2 217.0,335.1 217.5,334.7 218.0,335.3 218.5,334.9 219.0,335.2 219.5,335.1 220.0,335.1 220.5,335.3 221.0,334.9 221.5,334.9 222.0,334.8 222.5,334.9 223.0,335.4 223.5,334.8 224.0,335.3 224.5,335.1 225.0,335.1 225.5,335.1 226.0,334.6 226.5,334.9 227.0,335.3 227.5,334.6 228.0,334.7 228.5,334.5 229.0,334.8 229.5,334.3 230.0,335.0 230.5,334.3 231.0,333.8 231.5,334.6 232.0,334.2 232.5,333.9 233.0,333.8 233.5,333.3 234.0,333.1 234.5,333.1 235.0,332.9 235.5,332.8 236.0,332.5 236.5,332.3 237.0,332.5 237.5,333.0 238.0,333.3 238.5,333.1 239.0,333.3 239.5,334.0 240.0,334.0 240.5,334.2 241.0,333.8 241.5,334.3 242.0,334.5 242.5,334.8 243.0,334.4 243.5,335.4 244.0,335.2 244.5,335.3 245.0,334.9 245.5,335.3 246.0,335.7 246.5,334.9 247.0,335.4 247.5,335.5 248.0,335.1 248.5,335.5 249.0,335.2 249.5,335.6 250.0,335.4 250.5,335.3 251.0,335.8 251.5,335.5 252.0,335.6 252.5,334.9 253.0,335.0 253.5,335.4 254.0,335.4 254.5,335.1 255.0,335.4 255.5,334.8 256.0,335.2 256.5,334.8 257.0,335.1 257.5,334.9 258.0,334.8 258.5,335.0 259.0,335.4 259.5,334.6 260.0,334.7 260.5,335.1 261.0,334.7 261.5,335.2 262.0,334.8 262.5,334.6 263.0,334.4 263.5,334.4 264.0,333.6 264.5,333.1 265.0,332.3 265.5,330.8 266.0,329.8 266.5,329.3 267.0,327.7 267.5,326.0 268.0,324.5 268.5,322.5 269.0,322.4 269.5,322.9 270.0,324.4 270.5,325.4 271.0,327.0 271.5,327.9 272.0,328.1 272.5,328.7 273.0,329.0 273.5,329.1 274.0,329.5 274.5,328.6 275.0,328.6 275.5,329.2 276.0,329.3 276.5,329.6 277.0,329.1 277.5,329.1 278.0,328.4 278.5,328.7 279.0,328.5 279.5,327.6 280.0,327.3 280.5,326.6 281.0,325.1 281.5,322.3 282.0,321.1 282.5,318.9 283.0,318.0 283.5,319.8 284.0,322.5 284.5,325.6 285.0,328.3 285.5,329.2 286.0,329.9 286.5,331.0 287.0,331.9 287.5,331.3 288.0,331.4 288.5,331.5 289.0,332.7 289.5,332.2 290.0,332.3 290.5,332.2 291.0,332.2 291.5,332.0 292.0,332.6 292.5,332.7 293.0,332.1 293.5,332.4 294.0,332.5 294.5,332.8 295.0,332.9 295.5,333.1 296.0,333.2 296.5,333.2 297.0,333.3 297.5,332.6 298.0,332.8 298.5,333.3 299.0,333.1 299.5,333.0 300.0,332.5 300.5,332.5 301.0,333.2 301.5,333.2 302.0,333.0 302.5,333.0 303.0,332.6 303.5,333.2 304.0,333.4 304.5,333.6 305.0,333.1 305.5,333.0 306.0,332.8 306.5,333.4 307.0,333.5 307.5,332.8 308.0,333.1 308.5,333.0 309.0,332.7 309.5,332.1 310.0,332.7 310.5,332.9 311.0,332.3 311.5,332.4 312.0,331.7 312.5,332.9 313.0,332.7 313.5,332.5 314.0,332.3 314.5,332.2 315.0,332.3 315.5,332.2 316.0,332.2 316.5,332.3 317.0,332.3 317.5,332.8 318.0,331.9 318.5,332.4 319.0,332.2 319.5,332.2 320.0,331.9 320.5,332.8 321.0,332.4 321.5,332.6 322.0,333.0 322.5,332.7 323.0,333.1 323.5,333.1 324.0,333.4 324.5,333.5 325.0,333.1 325.5,333.6 326.0,333.4 326.5,333.5 327.0,333.4 327.5,333.7 328.0,333.2 328.5,333.7 329.0,334.0 329.5,333.6 330.0,334.3 330.5,333.5 331.0,333.8 331.5,333.7 332.0,333.6 332.5,333.5 333.0,333.7 333.5,333.9 334.0,333.7 334.5,334.1 335.0,334.3 335.5,333.5 336.0,334.1 336.5,333.9 337.0,333.9 337.5,334.5 338.0,334.2 338.5,333.9 339.0,333.8 339.5,333.1 340.0,333.9 340.5,333.5 341.0,333.7 341.5,333.6 342.0,333.8 342.5,334.1 343.0,333.8 343.5,333.8 344.0,333.3 344.5,333.5 345.0,333.5 345.5,332.8 346.0,333.7 346.5,332.9 347.0,332.6 347.5,333.3 348.0,333.3 348.5,332.4 349.0,332.3 349.5,333.3 350.0,332.4 350.5,331.7 351.0,332.1 351.5,332.9 352.0,332.7 352.5,332.9 353.0,333.1 353.5,332.6 354.0,330.8 354.5,329.0 355.0,328.2 355.5,325.4 356.0,321.9 356.5,317.3 357.0,308.0 357.5,295.4 358.0,280.3 358.5,263.0 359.0,259.6 359.5,274.6 360.0,311.8 360.5,323.9 361.0,326.4 361.5,327.6 362.0,328.9 362.5,329.4 363.0,330.6 363.5,332.1 364.0,332.2 364.5,332.4 365.0,332.6 365.5,332.8 366.0,332.8 366.5,332.7 367.0,332.6 367.5,333.0 368.0,333.2 368.5,332.6 369.0,332.6 369.5,333.1 370.0,332.4 370.5,332.6 371.0,332.7 371.5,332.8 372.0,332.7 372.5,332.5 373.0,332.8 373.5,332.4 374.0,332.2 374.5,332.1 375.0,332.9 375.5,332.2 376.0,332.8 376.5,332.9 377.0,332.9 377.5,332.6 378.0,332.5 378.5,332.6 379.0,332.4 379.5,332.2 380.0,332.9 380.5,332.3 381.0,333.0 381.5,332.6 382.0,332.3 382.5,332.5 383.0,332.8 383.5,332.0 384.0,332.1 384.5,332.0 385.0,332.3 385.5,332.4 386.0,332.3 386.5,332.0 387.0,332.0 387.5,332.5 388.0,332.5 388.5,332.2 389.0,331.7 389.5,332.2 390.0,332.1 390.5,332.1 391.0,332.5 391.5,332.2 392.0,331.6 392.5,331.6 393.0,332.3 393.5,331.9 394.0,332.1 394.5,331.8 395.0,331.5 395.5,331.9 396.0,332.2 396.5,331.9 397.0,331.4 397.5,331.7 398.0,331.6 398.5,331.8 399.0,332.0 399.5,332.3 400.0,332.1 400.5,332.3 401.0,332.8 401.5,333.3 402.0,333.8 402.5,334.3 403.0,334.4 403.5,334.1 404.0,334.6 404.5,334.4 405.0,334.3 405.5,334.7 406.0,334.5 406.5,335.1 407.0,334.8 407.5,334.7 408.0,334.5 408.5,334.6 409.0,335.0 409.5,334.5 410.0,334.9 410.5,334.1 411.0,334.8 411.5,335.0 412.0,334.8 412.5,334.7 413.0,335.0 413.5,334.5 414.0,334.4 414.5,334.8 415.0,335.1 415.5,334.8 416.0,334.7 416.5,334.8 417.0,334.8 417.5,334.4 418.0,333.9 418.5,334.4 419.0,334.3 419.5,334.6 420.0,334.4 420.5,334.5 421.0,334.8 421.5,334.7 422.0,334.7 422.5,335.2 423.0,334.6 423.5,334.6 424.0,335.1 424.5,334.4 425.0,334.3 425.5,335.1 426.0,334.8 426.5,334.9 427.0,334.9 427.5,335.0 428.0,334.6 428.5,334.8 429.0,334.5 429.5,334.8 430.0,334.9 430.5,334.7 431.0,335.0 431.5,335.7 432.0,334.6 432.5,335.2 433.0,335.2 433.5,335.3 434.0,334.8 434.5,335.3 435.0,335.2 435.5,335.0 436.0,335.0 436.5,335.2 437.0,335.4 437.5,335.4 438.0,335.8 438.5,335.1 439.0,335.4 439.5,335.1 440.0,335.5 440.5,335.3 441.0,335.1 441.5,334.9 442.0,335.1 442.5,335.4 443.0,335.7 443.5,335.6 444.0,335.0 444.5,335.2 445.0,335.4 445.5,335.3 446.0,335.3 446.5,335.5 447.0,335.4 447.5,335.1 448.0,334.8 448.5,335.2 449.0,334.8 449.5,335.2 450.0,335.3 450.5,334.8 451.0,335.1 451.5,335.1 452.0,335.7 452.5,335.2 453.0,334.5 453.5,335.2 454.0,335.1 454.5,334.9 455.0,334.8 455.5,335.1 456.0,335.0 456.5,334.9 457.0,334.5 457.5,334.7 458.0,334.2 458.5,334.2 459.0,334.3 459.5,334.0 460.0,334.0 460.5,334.6 461.0,333.8 461.5,333.2 462.0,332.6 462.5,332.8 463.0,332.5 463.5,332.0 464.0,332.7 464.5,332.1 465.0,332.2 465.5,332.9 466.0,331.9 466.5,331.8 467.0,331.8 467.5,331.6 468.0,331.3 468.5,331.4 469.0,331.8 469.5,331.3 470.0,330.9 470.5,330.9 471.0,331.0 471.5,331.3 472.0,331.4 472.5,331.4 473.0,331.7 473.5,331.3 474.0,331.6 474.5,331.5 475.0,331.7 475.5,331.0 476.0,332.0 476.5,331.2 477.0,331.4 477.5,332.1 478.0,331.8 478.5,332.5 479.0,332.1 479.5,331.8 480.0,332.2 480.5,332.2 481.0,332.8 481.5,332.9 482.0,332.8 482.5,332.5 483.0,332.7 483.5,333.0 484.0,332.5 484.5,332.3 485.0,332.5 485.5,332.0 486.0,331.2 486.5,330.7 487.0,329.5 487.5,329.6 488.0,328.5 488.5,327.9 489.0,328.5 489.5,329.5 490.0,331.3 490.5,332.1 491.0,332.3 491.5,333.3 492.0,333.2 492.5,332.5 493.0,332.1 493.5,333.2 494.0,332.8 494.5,332.9 495.0,332.8 495.5,333.4 496.0,333.4 496.5,333.3 497.0,333.0 497.5,333.1 498.0,333.2 498.5,332.6 499.0,333.4 499.5,333.0 500.0,333.2 500.5,333.2 501.0,333.4 501.5,333.4 502.0,333.8 502.5,333.1 503.0,332.9 503.5,333.2 504.0,333.0 504.5,333.4 505.0,333.0 505.5,333.3 506.0,333.5 506.5,333.5 507.0,333.3 507.5,333.7 508.0,333.6 508.5,332.8 509.0,333.4 509.5,333.3 510.0,333.2 510.5,333.1 511.0,333.4 511.5,333.5 512.0,333.5 512.5,333.8 513.0,333.7 513.5,333.3 514.0,333.3 514.5,333.8 515.0,333.3 515.5,333.6 516.0,333.7 516.5,333.9 517.0,333.8 517.5,334.1 518.0,333.6 518.5,333.9 519.0,333.6 519.5,333.8 520.0,333.8 520.5,333.6 521.0,333.1 521.5,334.1 522.0,334.0 522.5,333.9 523.0,333.7 523.5,333.8 524.0,334.0 524.5,333.5 525.0,333.0 525.5,331.8 526.0,330.8 526.5,330.4 527.0,329.7 527.5,330.4 528.0,330.8 528.5,332.2 529.0,333.4 529.5,333.7 530.0,333.9 530.5,334.1 531.0,333.9 531.5,334.4 532.0,333.8 532.5,333.9 533.0,333.9 533.5,333.4 534.0,333.5 534.5,334.1 535.0,333.8 535.5,334.3" stroke="#000000"/>
<path d="M30.0,124.4 30.5,125.4 31.0,125.9 31.5,126.0 32.0,127.2 32.5,127.4 33.0,127.3 33.5,127.7 34.0,127.5 34.5,127.3 35.0,126.9 35.5,126.7 36.0,125.9 36.5,125.7 37.0,125.1 37.5,125.0 38.0,124.2 38.5,123.3 39.0,122.4 39.5,121.7 40.0,121.0 40.5,120.0 41.0,119.6 41.5,118.4 42.0,115.8 42.5,114.6 43.0,113.4 43.5,111.4 44.0,109.5 44.5,107.2 45.0,105.6 45.5,101.9 46.0,99.8 46.5,98.6 47.0,95.7 47.5,93.7 48.0,91.2 48.5,88.4 49.0,87.1 49.5,84.6 50.0,81.2 50.5,78.8 51.0,76.3 51.5,72.9 52.0,70.4 52.5,67.4 53.0,64.2 53.5,60.6 54.0,57.9 54.5,54.6 55.0,50.5 55.5,45.6 56.0,42.3 56.5,36.9 57.0,33.4 57.5,27.4 58.0,24.2 58.5,19.1 59.0,14.1 59.5,11.3 60.0,9.0 60.5,6.8 61.0,3.9 61.5,2.8 62.0,5.4 62.5,9.2 63.0,14.2 63.5,19.5 64.0,23.0 64.5,29.8 65.0,37.2 65.5,47.9 66.0,56.9 66.5,65.8 67.0,72.2 67.5,79.3 68.0,88.1 68.5,97.9 69.0,105.3 69.5,110.4 70.0,115.6 70.5,119.5 71.0,122.9 71.5,127.1 72.0,131.7 72.5,134.9 73.0,137.2 73.5,140.3 74.0,143.2 74.5,145.7 75.0,148.2 75.5,150.0 76.0,151.8 76.5,153.6 77.0,155.8 77.5,156.0 78.0,158.2 78.5,159.6 79.0,160.3 79.5,162.0 80.0,162.7 80.5,164.2 81.0,164.7 81.5,165.8 82.0,166.8 82.5,167.3 83.0,167.5 83.5,167.9 84.0,169.7 84.5,169.6 85.0,170.0 85.5,170.7 86.0,171.0 86.5,171.7 87.0,171.7 87.5,172.0 88.0,172.1 88.5,172.7 89.0,172.5 89.5,173.3 90.0,173.8 90.5,173.1 91.0,173.0 91.5,174.2 92.0,175.0 92.5,174.0 93.0,174.1 93.5,174.8 94.0,174.4 94.5,174.6 95.0,174.8 95.5,175.1 96.0,174.9 96.5,175.1 97.0,175.0 97.5,174.9 98.0,175.1 98.5,174.9 99.0,175.2 99.5,174.9 100.0,174.9 100.5,175.8 101.0,175.3 101.5,175.3 102.0,175.6 102.5,175.3 103.0,175.4 103.5,175.7 104.0,175.7 104.5,175.2 105.0,176.0 105.5,175.5 106.0,175.4 106.5,175.5 107.0,175.8 107.5,176.5 108.0,175.6 108.5,176.1 109.0,175.3 109.5,176.1 110.0,176.5 110.5,176.1 111.0,176.1 111.5,176.5 112.0,176.8 112.5,176.9 113.0,177.5 113.5,177.0 114.0,176.9 114.5,177.3 115.0,177.5 115.5,177.7 116.0,177.9 116.5,178.2 117.0,177.8 117.5,178.9 118.0,178.6 118.5,178.7 119.0,179.6 119.5,180.1 120.0,180.1 120.5,180.3 121.0,180.3 121.5,181.9 122.0,181.6 122.5,181.3 123.0,181.8 123.5,182.6 124.0,182.5 124.5,183.5 125.0,183.7 125.5,184.5 126.0,184.7 126.5,183.8 127.0,184.8 127.5,184.5 128.0,185.5 128.5,185.4 129.0,185.6 129.5,185.2 130.0,186.2 130.5,186.3 131.0,185.4 131.5,185.9 132.0,185.6 132.5,185.8 133.0,185.5 133.5,186.4 134.0,185.6 134.5,185.8 135.0,186.1 135.5,185.7 136.0,185.8 136.5,185.7 137.0,185.9 137.5,185.5 138.0,185.8 138.5,185.8 139.0,185.8 139.5,185.9 140.0,185.8 140.5,186.1 141.0,185.8 141.5,185.8 142.0,185.7 142.5,185.7 143.0,185.5 143.5,186.0 144.0,185.5 144.5,185.6 145.0,186.0 145.5,186.0 146.0,185.7 146.5,185.2 147.0,186.0 147.5,185.9 148.0,185.4 148.5,186.1 149.0,185.6 149.5,185.5 150.0,185.9 150.5,185.8 151.0,185.9 151.5,185.3 152.0,186.4 152.5,185.6 153.0,185.4 153.5,186.0 154.0,185.7 154.5,185.9 155.0,185.7 155.5,185.8 156.0,185.9 156.5,185.6 157.0,186.0 157.5,185.7 158.0,185.5 158.5,185.8 159.0,185.9 159.5,185.7 160.0,185.5 160.5,186.0 161.0,185.3 161.5,185.5 162.0,185.8 162.5,185.4 163.0,185.8 163.5,185.8 164.0,186.1 164.5,185.6 165.0,185.6 165.5,185.9 166.0,185.1 166.5,186.8 167.0,185.7 167.5,185.7 168.0,186.1 168.5,185.9 169.0,185.4 169.5,186.1 170.0,186.2 170.5,185.8 171.0,185.9 171.5,186.1 172.0,185.7 172.5,186.1 173.0,186.1 173.5,185.8 174.0,185.6 174.5,186.0 175.0,185.8 175.5,186.4 176.0,186.1 176.5,186.3 177.0,186.1 177.5,186.2 178.0,185.9 178.5,186.3 179.0,186.7 179.5,186.1 180.0,186.0 180.5,186.1 181.0,186.0 181.5,186.0 182.0,186.3 182.5,186.1 183.0,186.7 183.5,186.2 184.0,186.3 184.5,186.5 185.0,186.2 185.5,186.7 186.0,186.1 186.5,186.0 187.0,186.2 187.5,186.3 188.0,185.9 188.5,186.3 189.0,185.8 189.5,186.7 190.0,186.3 190.5,186.1 191.0,186.0 191.5,186.2 192.0,186.2 192.5,186.0 193.0,186.0 193.5,186.2 194.0,186.1 194.5,186.5 195.0,186.6 195.5,186.2 196.0,186.4 196.5,185.8 197.0,186.4 197.5,186.2 198.0,186.3 198.5,186.6 199.0,185.4 199.5,186.2 200.0,185.8 200.5,186.2 201.0,185.7 201.5,185.9 202.0,186.1 202.5,186.2 203.0,186.0 203.5,185.7 204.0,185.8 204.5,186.2 205.0,185.9 205.5,185.3 206.0,186.1 206.5,185.9 207.0,186.1 207.5,185.7 208.0,186.0 208.5,185.4 209.0,185.9 209.5,185.5 210.0,185.9 210.5,185.9 211.0,185.4 211.5,185.6 212.0,185.6 212.5,185.9 213.0,185.7 213.5,185.1 214.0,185.6 214.5,185.7 215.0,186.1 215.5,184.9 216.0,185.2 216.5,185.8 217.0,185.0 217.5,185.0 218.0,185.5 218.5,185.6 219.0,185.1 219.5,185.5 220.0,185.3 220.5,185.8 221.0,185.3 221.5,185.6 222.0,185.0 222.5,185.2 223.0,185.2 223.5,185.6 224.0,185.4 224.5,185.0 225.0,185.4 225.5,185.4 226.0,185.2 226.5,185.1 227.0,185.1 227.5,184.7 228.0,185.2 228.5,185.2 229.0,184.9 229.5,185.4 230.0,184.7 230.5,185.0 231.0,185.0 231.5,185.7 232.0,184.6 232.5,185.3 233.0,185.4 233.5,185.2 234.0,185.5 234.5,184.8 235.0,184.4 235.5,185.3 236.0,184.7 236.5,185.0 237.0,184.7 237.5,185.4 238.0,185.3 238.5,184.8 239.0,185.3 239.5,185.1 240.0,185.0 240.5,185.0 241.0,184.9 241.5,185.2 242.0,185.1 242.5,184.9 243.0,185.3 243.5,184.8 244.0,185.0 244.5,185.0 245.0,185.3 245.5,184.7 246.0,185.4 246.5,184.9 247.0,184.8 247.5,184.6 248.0,184.9 248.5,184.7 249.0,184.4 249.5,184.3 250.0,184.5 250.5,184.4 251.0,184.9 251.5,184.9 252.0,184.8 252.5,184.6 253.0,184.3 253.5,184.4 254.0,184.6 254.5,185.0 255.0,184.6 255.5,184.2 256.0,184.3 256.5,184.2 257.0,184.1 257.5,184.2 258.0,184.4 258.5,184.9 259.0,184.3 259.5,184.7 260.0,184.8 260.5,184.3 261.0,184.8 261.5,184.5 262.0,184.0 262.5,184.0 263.0,183.7 263.5,183.4 264.0,182.9 264.5,182.4 265.0,181.7 265.5,180.5 266.0,179.8 266.5,178.3 267.0,177.8 267.5,176.6 268.0,175.3 268.5,174.2 269.0,173.1 269.5,172.3 270.0,172.8 270.5,173.8 271.0,174.7 271.5,175.0 272.0,176.3 272.5,175.9 273.0,176.6 273.5,177.0 274.0,176.8 274.5,176.8 275.0,177.0 275.5,177.6 276.0,178.2 276.5,178.1 277.0,178.2 277.5,178.2 278.0,178.6 278.5,177.9 279.0,178.8 279.5,178.8 280.0,178.5 280.5,179.8 281.0,178.7 281.5,178.9 282.0,179.0 282.5,179.9 283.0,179.3 283.5,179.9 284.0,180.0 284.5,180.0 285.0,179.5 285.5,179.8 286.0,180.6 286.5,179.7 287.0,179.9 287.5,180.2 288.0,180.5 288.5,180.4 289.0,180.5 289.5,180.0 290.0,180.6 290.5,180.4 291.0,179.7 291.5,180.6 292.0,180.8 292.5,179.8 293.0,180.0 293.5,180.3 294.0,179.3 294.5,179.0 295.0,179.1 295.5,179.1 296.0,178.8 296.5,179.1 297.0,178.9 297.5,178.5 298.0,179.4 298.5,180.3 299.0,180.5 299.5,180.8 300.0,180.8 300.5,181.3 301.0,180.8 301.5,181.5 302.0,181.4 302.5,181.9 303.0,181.8 303.5,181.4 304.0,181.9 304.5,182.3 305.0,181.6 305.5,181.7 306.0,181.7 306.5,181.4 307.0,182.2 307.5,182.3 308.0,182.1 308.5,182.0 309.0,181.9 309.5,182.0 310.0,181.7 310.5,182.2 311.0,182.2 311.5,182.2 312.0,181.7 312.5,181.9 313.0,181.8 313.5,182.5 314.0,182.0 314.5,181.3 315.0,182.0 315.5,182.5 316.0,182.1 316.5,182.2 317.0,181.9 317.5,181.3 318.0,181.3 318.5,181.5 319.0,181.9 319.5,182.0 320.0,182.1 320.5,181.8 321.0,182.2 321.5,181.8 322.0,181.7 322.5,182.2 323.0,181.6 323.5,181.1 324.0,181.6 324.5,181.9 325.0,180.9 325.5,181.8 326.0,181.8 326.5,181.5 327.0,181.5 327.5,181.8 328.0,181.8 328.5,182.4 329.0,182.2 329.5,181.7 330.0,181.9 330.5,182.5 331.0,182.9 331.5,182.5 332.0,182.5 332.5,183.1 333.0,182.6 333.5,182.5 334.0,182.3 334.5,182.6 335.0,183.5 335.5,182.4 336.0,182.9 336.5,182.6 337.0,183.1 337.5,183.4 338.0,183.1 338.5,183.4 339.0,183.5 339.5,183.4 340.0,183.8 340.5,183.6 341.0,183.3 341.5,183.2 342.0,183.2 342.5,183.6 343.0,183.4 343.5,184.3 344.0,184.1 344.5,183.5 345.0,183.5 345.5,184.1 346.0,183.1 346.5,183.5 347.0,184.0 347.5,183.4 348.0,183.6 348.5,183.6 349.0,184.0 349.5,183.8 350.0,183.9 350.5,184.0 351.0,183.8 351.5,184.2 352.0,183.6 352.5,183.4 353.0,183.4 353.5,183.4 354.0,183.7 354.5,184.2 355.0,184.0 355.5,183.7 356.0,183.5 356.5,183.6 357.0,183.5 357.5,183.3 358.0,182.9 358.5,182.9 359.0,183.0 359.5,181.8 360.0,182.7 360.5,182.6 361.0,183.6 361.5,183.3 362.0,183.0 362.5,183.7 363.0,184.2 363.5,183.7 364.0,184.0 364.5,183.7 365.0,183.1 365.5,183.8 366.0,183.6 366.5,183.2 367.0,183.9 367.5,183.7 368.0,183.4 368.5,183.8 369.0,183.2 369.5,183.7 370.0,183.1 370.5,183.5 371.0,183.0 371.5,183.7 372.0,183.3 372.5,183.6 373.0,182.8 373.5,182.9 374.0,183.3 374.5,182.1 375.0,182.6 375.5,183.2 376.0,183.0 376.5,183.1 377.0,182.7 377.5,182.9 378.0,182.5 378.5,182.3 379.0,182.2 379.5,182.5 380.0,182.5 380.5,182.5 381.0,181.6 381.5,182.2 382.0,182.6 382.5,182.9 383.0,182.7 383.5,182.7 384.0,182.3 384.5,183.6 385.0,182.7 385.5,183.6 386.0,183.7 386.5,183.3 387.0,183.1 387.5,183.4 388.0,183.1 388.5,183.5 389.0,183.5 389.5,183.7 390.0,183.9 390.5,184.2 391.0,183.6 391.5,184.1 392.0,183.6 392.5,183.6 393.0,183.7 393.5,183.6 394.0,184.3 394.5,184.3 395.0,184.4 395.5,184.1 396.0,184.2 396.5,184.0 397.0,183.9 397.5,184.4 398.0,184.4 398.5,184.0 399.0,184.6 399.5,183.9 400.0,184.4 400.5,184.3 401.0,184.4 401.5,184.2 402.0,184.9 402.5,184.8 403.0,185.0 403.5,184.7 404.0,184.3 404.5,184.6 405.0,184.3 405.5,184.8 406.0,185.1 406.5,184.8 407.0,184.5 407.5,184.6 408.0,184.8 408.5,184.3 409.0,184.8 409.5,184.8 410.0,184.6 410.5,184.6 411.0,184.8 411.5,184.5 412.0,184.5 412.5,185.0 413.0,184.8 413.5,185.3 414.0,184.5 414.5,184.2 415.0,185.0 415.5,185.0 416.0,184.5 416.5,184.3 417.0,184.8 417.5,184.2 418.0,184.7 418.5,184.1 419.0,184.7 419.5,184.1 420.0,184.7 420.5,185.3 421.0,184.7 421.5,185.0 422.0,184.6 422.5,184.6 423.0,184.4 423.5,185.2 424.0,184.9 424.5,185.4 425.0,184.5 425.5,184.9 426.0,185.0 426.5,185.4 427.0,185.5 427.5,184.8 428.0,184.7 428.5,184.5 429.0,185.5 429.5,185.1 430.0,184.9 430.5,185.1 431.0,184.4 431.5,184.6 432.0,185.5 432.5,185.3 433.0,185.3 433.5,184.9 434.0,185.4 434.5,185.8 435.0,184.9 435.5,185.3 436.0,185.2 436.5,185.4 437.0,185.4 437.5,185.3 438.0,185.1 438.5,185.4 439.0,185.2 439.5,185.4 440.0,185.4 440.5,185.7 441.0,185.3 441.5,185.4 442.0,185.9 442.5,185.5 443.0,185.5 443.5,185.9 444.0,185.7 444.5,185.7 445.0,185.7 445.5,185.3 446.0,185.8 446.5,186.1 447.0,185.9 447.5,185.3 448.0,185.9 448.5,185.5 449.0,185.7 449.5,185.8 450.0,185.5 450.5,186.2 451.0,185.8 451.5,186.1 452.0,186.1 452.5,186.3 453.0,186.2 453.5,185.4 454.0,185.9 454.5,185.2 455.0,185.8 455.5,186.1 456.0,186.1 456.5,186.1 457.0,185.5 457.5,185.6 458.0,185.4 458.5,185.6 459.0,185.6 459.5,184.8 460.0,185.9 460.5,184.6 461.0,184.3 461.5,184.4 462.0,184.2 462.5,183.9 463.0,183.3 463.5,183.8 464.0,183.1 464.5,183.4 465.0,183.3 465.5,182.3 466.0,182.4 466.5,182.4 467.0,182.8 467.5,182.7 468.0,182.8 468.5,182.5 469.0,182.9 469.5,183.2 470.0,182.4 470.5,182.8 471.0,182.9 471.5,182.9 472.0,182.9 472.5,183.5 473.0,183.4 473.5,183.3 474.0,182.8 474.5,183.8 475.0,183.2 475.5,182.9 476.0,183.0 476.5,183.0 477.0,183.9 477.5,183.3 478.0,183.3 478.5,182.6 479.0,183.5 479.5,183.0 480.0,183.0 480.5,183.6 481.0,183.1 481.5,183.7 482.0,183.8 482.5,182.9 483.0,183.5 483.5,183.1 484.0,183.6 484.5,183.9 485.0,183.2 485.5,184.2 486.0,183.6 486.5,183.4 487.0,183.7 487.5,184.0 488.0,183.4 488.5,183.8 489.0,183.4 489.5,184.2 490.0,183.9 490.5,183.8 491.0,184.3 491.5,183.6 492.0,183.9 492.5,184.6 493.0,184.0 493.5,184.5 494.0,184.2 494.5,183.9 495.0,184.1 495.5,184.2 496.0,184.1 496.5,184.0 497.0,184.0 497.5,183.8 498.0,184.3 498.5,184.5 499.0,184.6 499.5,183.8 500.0,184.7 500.5,184.4 501.0,184.0 501.5,184.5 502.0,184.7 502.5,184.7 503.0,184.8 503.5,184.8 504.0,184.8 504.5,184.6 505.0,184.0 505.5,184.4 506.0,184.7 506.5,184.5 507.0,184.9 507.5,184.9 508.0,184.7 508.5,185.2 509.0,184.4 509.5,185.0 510.0,184.6 510.5,184.5 511.0,184.9 511.5,184.5 512.0,185.0 512.5,184.3 513.0,184.7 513.5,184.4 514.0,184.6 514.5,184.6 515.0,184.4 515.5,184.9 516.0,184.3 516.5,184.4 517.0,185.0 517.5,185.0 518.0,184.9 518.5,184.8 519.0,185.4 519.5,184.3 520.0,184.5 520.5,184.4 521.0,185.0 521.5,184.8 522.0,185.0 522.5,185.0 523.0,184.6 523.5,184.4 524.0,184.4 524.5,185.4 525.0,185.0 525.5,184.9 526.0,184.6 526.5,184.6 527.0,184.6 527.5,184.6 528.0,184.0 528.5,184.7 529.0,184.6 529.5,184.8 530.0,184.8 530.5,185.0 531.0,184.7 531.5,184.9 532.0,183.9 532.5,184.4 533.0,185.2 533.5,184.3 534.0,184.6 534.5,184.9 535.0,184.4 535.5,184.9 536.0,184.3" stroke="#FF00FF"/>
</g>
<g stroke="#000" stroke-width="2" fill="none">
<line x1="9.95" y1="358.6" x2="536.19" y2="358.6"/>
<line x1="10.95" y1="357.6" x2="10.95" y2="366"/>
<line x1="43.72" y1="357.6" x2="43.72" y2="362.6"/>
<line x1="76.48" y1="357.6" x2="76.48" y2="366"/>
<line x1="109.25" y1="357.6" x2="109.25" y2="362.6"/>
<line x1="142.01" y1="357.6" x2="142.01" y2="366"/>
<line x1="174.77" y1="357.6" x2="174.77" y2="362.6"/>
<line x1="207.54" y1="357.6" x2="207.54" y2="366"/>
<line x1="240.30" y1="357.6" x2="240.30" y2="362.6"/>
<line x1="273.07" y1="357.6" x2="273.07" y2="366"/>
<line x1="305.83" y1="357.6" x2="305.83" y2="362.6"/>
<line x1="338.60" y1="357.6" x2="338.60" y2="366"/>
<line x1="371.37" y1="357.6" x2="371.37" y2="362.6"/>
<line x1="404.13" y1="357.6" x2="404.13" y2="366"/>
<line x1="436.89" y1="357.6" x2="436.89" y2="362.6"/>
<line x1="469.66" y1="357.6" x2="469.66" y2="366"/>
<line x1="502.43" y1="357.6" x2="502.43" y2="362.6"/>
<line x1="535.19" y1="357.6" x2="535.19" y2="366"/>
</g>
<text x="457.00" y="171.00" font-size="18.5" textLength="72.95" lengthAdjust="spacingAndGlyphs">OMMT-3</text>
<text x="459.20" y="205.30" font-size="18.5" textLength="72.67" lengthAdjust="spacingAndGlyphs">OMMT-2</text>
<text x="455.60" y="238.50" font-size="18.5" textLength="72.95" lengthAdjust="spacingAndGlyphs">OMMT-1</text>
<text x="461.52" y="279.10" font-size="18.5" textLength="70.31" lengthAdjust="spacingAndGlyphs">Na-MMT</text>
<text x="485.48" y="320.50" font-size="18.5" textLength="42.34" lengthAdjust="spacingAndGlyphs">MMT</text>
<text x="80.31" y="154.00" font-size="17.5" textLength="10.32" lengthAdjust="spacingAndGlyphs">d</text>
<text x="90.57" y="159.00" font-size="10.4" textLength="17.36" lengthAdjust="spacingAndGlyphs">001</text>
<text x="108.82" y="154.00" font-size="17.5" textLength="71.43" lengthAdjust="spacingAndGlyphs">=2.47nm</text>
<text x="98.61" y="202.00" font-size="17.5" textLength="10.32" lengthAdjust="spacingAndGlyphs">d</text>
<text x="108.58" y="207.00" font-size="10.4" textLength="16.94" lengthAdjust="spacingAndGlyphs">001</text>
<text x="126.92" y="202.00" font-size="17.5" textLength="71.17" lengthAdjust="spacingAndGlyphs">=2.45nm</text>
<text x="99.92" y="239.00" font-size="17.5" textLength="10.20" lengthAdjust="spacingAndGlyphs">d</text>
<text x="110.47" y="245.00" font-size="10.4" textLength="17.36" lengthAdjust="spacingAndGlyphs">001</text>
<text x="128.51" y="239.00" font-size="17.5" textLength="71.74" lengthAdjust="spacingAndGlyphs">=2.02nm</text>
<text x="106.61" y="278.00" font-size="17.5" textLength="10.32" lengthAdjust="spacingAndGlyphs">d</text>
<text x="117.17" y="284.00" font-size="10.4" textLength="17.36" lengthAdjust="spacingAndGlyphs">001</text>
<text x="134.91" y="278.00" font-size="17.5" textLength="72.31" lengthAdjust="spacingAndGlyphs">=1.54nm</text>
<text x="96.23" y="323.00" font-size="17.5" textLength="10.07" lengthAdjust="spacingAndGlyphs">d</text>
<text x="106.47" y="329.00" font-size="10.4" textLength="17.36" lengthAdjust="spacingAndGlyphs">001</text>
<text x="124.21" y="323.00" font-size="17.5" textLength="72.05" lengthAdjust="spacingAndGlyphs">=1.58nm</text>
<text x="10.95" y="385.45" font-size="20" text-anchor="middle">0</text>
<text x="76.48" y="385.45" font-size="20" text-anchor="middle">5</text>
<text x="142.01" y="385.45" font-size="20" text-anchor="middle">10</text>
<text x="207.54" y="385.45" font-size="20" text-anchor="middle">15</text>
<text x="273.07" y="385.45" font-size="20" text-anchor="middle">20</text>
<text x="338.60" y="385.45" font-size="20" text-anchor="middle">25</text>
<text x="404.13" y="385.45" font-size="20" text-anchor="middle">30</text>
<text x="469.66" y="385.45" font-size="20" text-anchor="middle">35</text>
<text x="535.19" y="385.45" font-size="20" text-anchor="middle">40</text>
<text x="252.39" y="408.70" font-size="18.5" textLength="45.91" lengthAdjust="spacingAndGlyphs">2θ / °</text>
</svg>
</body></html>
